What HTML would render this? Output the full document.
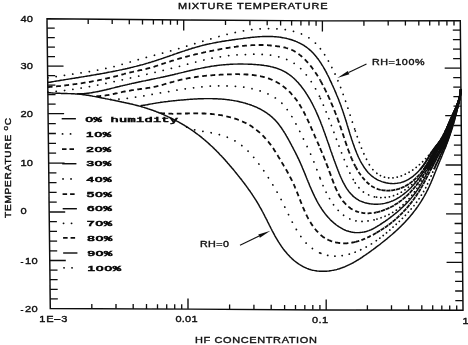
<!DOCTYPE html>
<html><head><meta charset="utf-8"><title>Mixture Temperature</title>
<style>
html,body{margin:0;padding:0;background:#fff;}
body{width:468px;height:345px;overflow:hidden;}
svg{display:block;}
text{font-family:"Liberation Sans",sans-serif;fill:#0a0a0a;stroke:#111;stroke-width:0.4px;}
.lg{font-family:"Liberation Mono",monospace;font-weight:normal;stroke-width:0.68px;}
.dg{font-family:"Liberation Sans",sans-serif;font-size:7.7px;}
.ax{stroke:#0a0a0a;stroke-width:1.45;fill:none;stroke-linecap:square;}
.tk{stroke:#0a0a0a;stroke-width:1.3;fill:none;}
.cv{stroke:#0a0a0a;stroke-width:1.45;fill:none;stroke-linejoin:round;}
.ds{stroke:#0a0a0a;stroke-width:1.8;fill:none;}
.dt{stroke:#0a0a0a;stroke-width:1.75;fill:none;stroke-linecap:round;}
</style></head><body>
<svg width="468" height="345" viewBox="0 0 468 345">
<defs><filter id="soft" x="-2%" y="-2%" width="104%" height="104%"><feGaussianBlur stdDeviation="0.28"/></filter></defs>
<rect width="468" height="345" fill="#fff"/>
<g filter="url(#soft)">

<path class="ax" d="M47.0 18.7L183.7 20.0L322.4 20.9L460.3 20.8L463.0 310.2L326.2 309.9L188.0 309.1L50.3 308.5Z"/>
<path class="tk" d="M50.2 298.9h7.6M462.9 300.6h-7.6M50.1 289.3h7.6M462.8 291.0h-7.6M50.0 279.7h7.6M462.7 281.4h-7.6M49.9 270.1h7.6M462.6 271.8h-7.6M49.8 260.5h16M462.6 262.3h-16M49.6 250.8h7.6M462.5 252.6h-7.6M49.5 241.1h7.6M462.4 242.9h-7.6M49.4 231.4h7.6M462.3 233.2h-7.6M49.3 221.7h7.6M462.2 223.5h-7.6M49.2 212.0h16M462.1 213.8h-16M49.1 202.2h7.6M462.0 204.0h-7.6M49.0 192.4h7.6M461.9 194.3h-7.6M48.9 182.7h7.6M461.8 184.5h-7.6M48.8 172.9h7.6M461.7 174.7h-7.6M48.6 163.1h16M461.6 165.0h-16M48.5 153.2h7.6M461.6 155.1h-7.6M48.4 143.3h7.6M461.5 145.2h-7.6M48.3 133.5h7.6M461.4 135.4h-7.6M48.2 123.6h7.6M461.3 125.5h-7.6M48.1 113.7h16M461.2 115.6h-16M48.0 104.2h7.6M461.1 106.1h-7.6M47.9 94.7h7.6M461.0 96.6h-7.6M47.8 85.1h7.6M460.9 87.1h-7.6M47.6 75.6h7.6M460.8 77.6h-7.6M47.5 66.1h16M460.7 68.1h-16M47.4 56.6h7.6M460.7 58.6h-7.6M47.3 47.1h7.6M460.6 49.2h-7.6M47.2 37.7h7.6M460.5 39.7h-7.6M47.1 28.2h7.6M460.4 30.2h-7.6M88.2 19.1v4.8M91.8 308.7v-4.8M112.2 19.3v4.8M116.0 308.8v-4.8M129.3 19.5v4.8M133.2 308.9v-4.8M142.5 19.6v4.8M146.5 308.9v-4.8M153.4 19.7v4.8M157.5 309.0v-4.8M162.5 19.8v4.8M166.7 309.0v-4.8M170.5 19.9v4.8M174.7 309.0v-4.8M177.4 19.9v4.8M181.7 309.1v-4.8M183.7 20.0v10.5M188.0 309.1v-10.5M225.5 20.3v4.8M229.6 309.3v-4.8M249.9 20.4v4.8M253.9 309.5v-4.8M267.2 20.5v4.8M271.2 309.6v-4.8M280.6 20.6v4.8M284.6 309.7v-4.8M291.6 20.7v4.8M295.5 309.7v-4.8M300.9 20.8v4.8M304.8 309.8v-4.8M309.0 20.8v4.8M312.8 309.8v-4.8M316.1 20.9v4.8M319.9 309.9v-4.8M322.4 20.9v10.5M326.2 309.9v-10.5M363.9 20.9v4.8M367.4 310.0v-4.8M388.2 20.8v4.8M391.5 310.0v-4.8M405.4 20.8v4.8M408.6 310.1v-4.8M418.8 20.8v4.8M421.8 310.1v-4.8M429.7 20.8v4.8M432.7 310.1v-4.8M438.9 20.8v4.8M441.8 310.2v-4.8M446.9 20.8v4.8M449.7 310.2v-4.8M454.0 20.8v4.8M456.7 310.2v-4.8"/>
<path class="cv" d="M47.8 92.5L49.0 92.7L50.2 92.8L51.3 92.9L52.5 93.0L53.7 93.1L54.9 93.1L56.1 93.2L57.3 93.2L58.5 93.3L59.7 93.3L60.9 93.4L62.1 93.4L63.2 93.4L64.4 93.5L65.6 93.5L66.8 93.5L68.0 93.6L69.2 93.6L70.4 93.6L71.6 93.7L72.8 93.7L74.0 93.8L75.1 93.9L76.3 93.9L77.5 94.0L78.7 94.1L79.9 94.2L81.1 94.4L82.2 94.5L83.4 94.7L84.6 94.8L85.8 95.0L87.0 95.2L88.1 95.3L89.3 95.5L90.5 95.7L91.6 95.9L92.8 96.2L94.0 96.4L95.2 96.6L96.3 96.8L97.5 97.0L98.7 97.3L99.8 97.5L101.0 97.7L102.2 98.0L103.3 98.2L104.5 98.4L105.7 98.7L106.8 98.9L108.0 99.1L109.2 99.4L110.3 99.6L111.5 99.8L112.7 100.1L113.8 100.3L115.0 100.5L116.2 100.8L117.3 101.0L118.5 101.2L119.7 101.5L120.8 101.7L122.0 102.0L123.1 102.2L124.3 102.5L125.5 102.7L126.6 103.0L127.8 103.2L128.9 103.5L130.1 103.8L131.3 104.0L132.4 104.3L133.6 104.6L134.7 104.9L135.9 105.2L137.0 105.5L138.2 105.8L139.3 106.1L140.5 106.4L141.6 106.7L142.7 107.1L143.9 107.4L145.0 107.8L146.2 108.1L147.3 108.5L148.4 108.9L149.5 109.2L150.7 109.6L151.8 110.0L152.9 110.4L154.0 110.8L155.2 111.2L156.3 111.7L157.4 112.1L158.5 112.5L159.6 113.0L160.7 113.4L161.8 113.9L162.9 114.3L164.0 114.8L165.1 115.3L166.2 115.8L167.3 116.3L168.3 116.8L169.4 117.3L170.5 117.8L171.6 118.3L172.6 118.9L173.7 119.4L174.7 120.0L175.8 120.5L176.8 121.1L177.9 121.6L178.9 122.2L180.0 122.8L181.0 123.4L182.0 124.0L183.1 124.6L184.1 125.2L185.1 125.8L186.1 126.4L187.1 127.1L188.1 127.7L189.1 128.4L190.1 129.0L191.1 129.7L192.1 130.3L193.0 131.0L194.0 131.7L195.0 132.4L195.9 133.1L196.9 133.8L197.8 134.5L198.8 135.2L199.7 135.9L200.6 136.7L201.6 137.4L202.5 138.2L203.4 138.9L204.3 139.7L205.2 140.4L206.1 141.2L207.0 142.0L207.9 142.8L208.8 143.6L209.7 144.4L210.5 145.2L211.4 146.0L212.3 146.8L213.1 147.6L214.0 148.4L214.8 149.3L215.7 150.1L216.5 150.9L217.3 151.8L218.2 152.6L219.0 153.5L219.8 154.4L220.6 155.2L221.5 156.1L222.3 157.0L223.1 157.8L223.9 158.7L224.7 159.6L225.5 160.5L226.3 161.4L227.1 162.3L227.8 163.2L228.6 164.1L229.4 165.0L230.2 165.9L231.0 166.8L231.7 167.7L232.5 168.6L233.3 169.5L234.0 170.4L234.8 171.4L235.5 172.3L236.3 173.2L237.0 174.1L237.8 175.1L238.5 176.0L239.3 176.9L240.0 177.9L240.8 178.8L241.5 179.7L242.2 180.7L242.9 181.6L243.7 182.6L244.4 183.5L245.1 184.5L245.8 185.4L246.5 186.4L247.2 187.4L247.9 188.3L248.6 189.3L249.3 190.3L250.0 191.2L250.6 192.2L251.3 193.2L252.0 194.2L252.6 195.2L253.3 196.2L253.9 197.2L254.6 198.2L255.2 199.2L255.9 200.2L256.5 201.2L257.1 202.2L257.7 203.2L258.3 204.2L258.9 205.2L259.5 206.3L260.1 207.3L260.7 208.3L261.3 209.4L261.8 210.4L262.4 211.5L263.0 212.5L263.5 213.6L264.1 214.6L264.6 215.7L265.1 216.8L265.7 217.8L266.2 218.9L266.8 219.9L267.3 221.0L267.8 222.1L268.4 223.1L268.9 224.2L269.4 225.3L270.0 226.3L270.5 227.4L271.0 228.5L271.6 229.5L272.1 230.6L272.7 231.6L273.2 232.7L273.8 233.7L274.4 234.8L274.9 235.8L275.5 236.8L276.1 237.9L276.7 238.9L277.3 239.9L277.9 240.9L278.5 241.9L279.2 242.9L279.8 243.9L280.5 244.9L281.1 245.9L281.8 246.9L282.5 247.8L283.2 248.8L283.9 249.8L284.7 250.7L285.4 251.6L286.2 252.5L287.0 253.5L287.7 254.3L288.6 255.2L289.4 256.1L290.2 257.0L291.1 257.8L291.9 258.6L292.8 259.4L293.7 260.2L294.6 261.0L295.6 261.7L296.5 262.4L297.5 263.1L298.5 263.8L299.5 264.5L300.5 265.1L301.5 265.7L302.6 266.3L303.6 266.9L304.7 267.4L305.8 267.9L306.9 268.4L308.0 268.8L309.1 269.2L310.2 269.5L311.3 269.9L312.5 270.2L313.6 270.4L314.8 270.6L315.9 270.8L317.1 271.0L318.3 271.1L319.5 271.2L320.6 271.3L321.8 271.3L323.0 271.3L324.2 271.3L325.4 271.3L326.5 271.2L327.7 271.1L328.9 271.0L330.1 270.8L331.3 270.6L332.4 270.4L333.6 270.2L334.8 269.9L336.0 269.7L337.1 269.4L338.3 269.0L339.4 268.7L340.6 268.3L341.7 267.9L342.8 267.5L343.9 267.1L345.0 266.7L346.1 266.2L347.2 265.7L348.3 265.2L349.4 264.7L350.4 264.2L351.5 263.7L352.5 263.1L353.6 262.5L354.6 261.9L355.6 261.3L356.6 260.7L357.6 260.1L358.7 259.5L359.7 258.9L360.7 258.2L361.7 257.6L362.6 256.9L363.6 256.2L364.6 255.5L365.6 254.9L366.6 254.2L367.6 253.5L368.5 252.8L369.5 252.1L370.5 251.4L371.4 250.7L372.4 250.0L373.4 249.3L374.3 248.6L375.3 247.9L376.2 247.1L377.2 246.4L378.2 245.7L379.1 245.0L380.1 244.3L381.0 243.5L381.9 242.8L382.9 242.0L383.8 241.3L384.7 240.6L385.7 239.8L386.6 239.1L387.5 238.3L388.4 237.5L389.3 236.8L390.2 236.0L391.1 235.2L392.0 234.5L392.9 233.7L393.8 232.9L394.7 232.1L395.6 231.3L396.5 230.5L397.3 229.7L398.2 228.9L399.1 228.0L399.9 227.2L400.8 226.4L401.6 225.6L402.4 224.7L403.3 223.9L404.1 223.0L404.9 222.2L405.7 221.3L406.5 220.4L407.3 219.6L408.1 218.7L408.9 217.8L409.7 216.9L410.4 216.0L411.2 215.1L411.9 214.2L412.7 213.2L413.4 212.3L414.1 211.4L414.9 210.4L415.6 209.5L416.3 208.5L417.0 207.5L417.7 206.6L418.3 205.6L419.0 204.6L419.7 203.6L420.3 202.6L421.0 201.6L421.6 200.6L422.2 199.6L422.9 198.5L423.5 197.5L424.1 196.5L424.7 195.4L425.2 194.4L425.8 193.3L426.4 192.3L426.9 191.2L427.5 190.2L428.0 189.1L428.5 188.0L429.0 187.0L429.5 185.9L430.0 184.8L430.5 183.7L431.0 182.6L431.4 181.5L431.9 180.4L432.4 179.3L432.8 178.2L433.3 177.1L433.7 176.0L434.2 174.9L434.6 173.8L435.0 172.7L435.5 171.6L435.9 170.5L436.4 169.4L436.8 168.3L437.3 167.2L437.7 166.1L438.2 165.0L438.6 163.9L439.1 162.8L439.5 161.7L440.0 160.6L440.4 159.6L440.9 158.5L441.4 157.4L441.8 156.3L442.3 155.2L442.7 154.1L443.1 153.0L443.6 151.9L444.0 150.8L444.5 149.7L444.9 148.6L445.4 147.5L445.8 146.4L446.2 145.2L446.6 144.1L447.1 143.0L447.5 141.9L447.9 140.8L448.3 139.7L448.7 138.6L449.1 137.4L449.5 136.3L449.9 135.2L450.3 134.1L450.6 132.9L451.0 131.8L451.4 130.7L451.7 129.5L452.1 128.4L452.5 127.3L452.8 126.1L453.1 125.0L453.5 123.8L453.8 122.7L454.1 121.5L454.5 120.4L454.8 119.2L455.1 118.1L455.4 116.9L455.7 115.8L456.0 114.6L456.3 113.5L456.6 112.3L456.8 111.2L457.1 110.0L457.4 108.8L457.7 107.7L457.9 106.5L458.2 105.4L458.4 104.2L458.7 103.0L458.9 101.9L459.1 100.7L459.3 99.5L459.6 98.4L459.8 97.2L460.0 96.1L460.2 94.9L460.4 93.7L460.6 92.6L460.8 91.4L460.9 90.2L461.1 89.1"/>
<path class="dt" stroke-dasharray="0.1 8.3" d="M186.7 127.1L187.5 127.5L188.4 127.8L189.2 128.2L190.0 128.5L190.9 128.8L191.7 129.0L192.6 129.3L193.4 129.5L194.3 129.8L195.2 130.0L196.0 130.2L196.9 130.3L197.8 130.5L198.7 130.7L199.5 130.8L200.4 131.0L201.3 131.1L202.2 131.3L203.1 131.4L204.0 131.6L204.9 131.7L205.8 131.8L206.8 132.0L207.7 132.1L208.6 132.3L209.5 132.5L210.4 132.6L211.3 132.8L212.2 133.0L213.2 133.2L214.1 133.4L215.0 133.6L215.9 133.8L216.8 134.0L217.7 134.2L218.6 134.4L219.5 134.7L220.4 134.9L221.3 135.2L222.2 135.4L223.1 135.7L224.0 136.0L224.9 136.3L225.7 136.6L226.6 136.9L227.5 137.3L228.3 137.6L229.2 137.9L230.0 138.3L230.8 138.7L231.7 139.1L232.5 139.5L233.3 139.9L234.1 140.3L234.8 140.8L235.6 141.2L236.4 141.7L237.2 142.2L237.9 142.7L238.6 143.2L239.4 143.7L240.1 144.2L240.8 144.8L241.5 145.3L242.2 145.9L242.9 146.5L243.6 147.0L244.3 147.6L245.0 148.2L245.7 148.8L246.3 149.5L247.0 150.1L247.6 150.7L248.3 151.4L248.9 152.0L249.6 152.7L250.2 153.3L250.8 154.0L251.4 154.7L252.0 155.4L252.6 156.1L253.2 156.8L253.8 157.5L254.4 158.2L255.0 158.9L255.6 159.6L256.1 160.3L256.7 161.0L257.3 161.8L257.8 162.5L258.4 163.3L258.9 164.0L259.5 164.7L260.0 165.5L260.6 166.2L261.1 167.0L261.7 167.8L262.2 168.5L262.7 169.3L263.2 170.0L263.8 170.8L264.3 171.6L264.8 172.3L265.3 173.1L265.8 173.9L266.3 174.6L266.8 175.4L267.3 176.2L267.8 176.9L268.3 177.7L268.8 178.4L269.3 179.2L269.8 180.0L270.3 180.8L270.8 181.5L271.3 182.3L271.8 183.1L272.2 183.8L272.7 184.6L273.2 185.4L273.7 186.2L274.1 186.9L274.6 187.7L275.0 188.5L275.5 189.3L276.0 190.1L276.4 190.9L276.9 191.7L277.3 192.5L277.7 193.3L278.2 194.1L278.6 194.9L279.0 195.7L279.5 196.5L279.9 197.3L280.3 198.1L280.7 198.9L281.2 199.7L281.6 200.5L282.0 201.4L282.4 202.2L282.8 203.0L283.2 203.8L283.6 204.6L284.0 205.5L284.4 206.3L284.8 207.1L285.2 207.9L285.7 208.8L286.1 209.6L286.5 210.4L286.9 211.2L287.3 212.1L287.7 212.9L288.1 213.7L288.5 214.5L288.9 215.4L289.3 216.2L289.7 217.0L290.1 217.8L290.5 218.6L291.0 219.5L291.4 220.3L291.8 221.1L292.2 221.9L292.6 222.7L293.1 223.5L293.5 224.3L293.9 225.1L294.4 225.9L294.8 226.7L295.3 227.5L295.7 228.3L296.2 229.1L296.6 229.9L297.1 230.6L297.6 231.4L298.0 232.2L298.5 233.0L299.0 233.7L299.5 234.5L300.0 235.3L300.5 236.0L301.0 236.8L301.5 237.5L302.1 238.2L302.6 239.0L303.2 239.7L303.8 240.4L304.4 241.1L305.0 241.8L305.6 242.5L306.2 243.2L306.9 243.8L307.5 244.5L308.2 245.1L308.9 245.8L309.6 246.4L310.4 247.0L311.1 247.5L311.8 248.1L312.6 248.7L313.4 249.2L314.1 249.7L314.9 250.2L315.7 250.7L316.5 251.2L317.3 251.6L318.2 252.1L319.0 252.5L319.8 252.9L320.7 253.2"/>
<path class="dt" stroke-dasharray="0.1 7.2" d="M320.7 253.2L321.5 253.6L322.4 253.9L323.2 254.2L324.1 254.5L325.0 254.7L325.8 255.0L326.7 255.2L327.6 255.4L328.4 255.6L329.3 255.7L330.2 255.8L331.1 255.9L332.0 256.0L332.8 256.1L333.7 256.1L334.6 256.2L335.5 256.2L336.4 256.2L337.3 256.1L338.2 256.1L339.1 256.0L340.0 255.9L340.9 255.9L341.8 255.7L342.7 255.6L343.6 255.5L344.5 255.3L345.4 255.1L346.2 254.9L347.1 254.7L348.0 254.5L348.9 254.3L349.8 254.0L350.7 253.7L351.6 253.5L352.4 253.2L353.3 252.9L354.2 252.6L355.1 252.2"/>
<path class="dt" stroke-dasharray="0.1 6.0" d="M355.1 252.2L355.9 251.9L356.8 251.5L357.7 251.2L358.5 250.8L359.4 250.4L360.3 250.0L361.1 249.6L361.9 249.2L362.8 248.8L363.6 248.4L364.5 248.0L365.3 247.5L366.1 247.1L366.9 246.6L367.7 246.2L368.5 245.7L369.3 245.2L370.1 244.7L370.9 244.2L371.7 243.8L372.5 243.3L373.3 242.8L374.0 242.3L374.8 241.7L375.5 241.2L376.3 240.7"/>
<path class="dt" stroke-dasharray="0.1 4.2" d="M376.3 240.7L377.0 240.2L377.8 239.7L378.5 239.1L379.2 238.6L379.9 238.1L380.7 237.5L381.4 237.0L382.1 236.4L382.8 235.8L383.5 235.3L384.2 234.7L384.9 234.2L385.6 233.6L386.3 233.0L387.0 232.4L387.7 231.8L388.4 231.3L389.0 230.7L389.7 230.1L390.4 229.5L391.1 228.9L391.8 228.3L392.4 227.7L393.1 227.1L393.8 226.5L394.5 225.8L395.1 225.2L395.8 224.6L396.5 224.0L397.2 223.4L397.8 222.7L398.5 222.1L399.2 221.5L399.8 220.8L400.5 220.2L401.2 219.6L401.8 218.9L402.5 218.3L403.1 217.6L403.8 217.0L404.4 216.3L405.1 215.6L405.7 215.0L406.4 214.3L407.0 213.6L407.6 213.0L408.2 212.3L408.9 211.6L409.5 210.9L410.1 210.2L410.7 209.5L411.3 208.8L411.9 208.1L412.5 207.4L413.1 206.7L413.7 206.0L414.3 205.3L414.8 204.6L415.4 203.8L415.9 203.1L416.5 202.4L417.0 201.6L417.6 200.9L418.1 200.2L418.6 199.4L419.1 198.7L419.7 197.9L420.2 197.1L420.6 196.4L421.1 195.6L421.6 194.8L422.1 194.0L422.6 193.3L423.0 192.5L423.5 191.7L423.9 190.9L424.4 190.1L424.8 189.3L425.2 188.5L425.7 187.7L426.1 186.9L426.5 186.1L426.9 185.3L427.3 184.4L427.7 183.6L428.1 182.8L428.5 182.0L428.9 181.1L429.2 180.3L429.6 179.4L430.0 178.6L430.3 177.8L430.7 176.9L431.1 176.1L431.4 175.2L431.8 174.4L432.1 173.5L432.5 172.7L432.8 171.9L433.2 171.0L433.6 170.2L433.9 169.3L434.3 168.5L434.7 167.7L435.1 166.8L435.5 166.0L435.8 165.1L436.2 164.3L436.6 163.5L437.0 162.7L437.4 161.8L437.8 161.0L438.2 160.2L438.6 159.3L439.0 158.5L439.4 157.7L439.8 156.9L440.1 156.0L440.5 155.2L440.9 154.4L441.3 153.6L441.7 152.7L442.1 151.9L442.5 151.1L442.9 150.2L443.2 149.4L443.6 148.6L444.0 147.7L444.4 146.9L444.7 146.1L445.1 145.2L445.5 144.4L445.8 143.6L446.2 142.7L446.5 141.9L446.9 141.0L447.2 140.2L447.5 139.3L447.8 138.5L448.2 137.6L448.5 136.8L448.8 135.9L449.1 135.0L449.4 134.2L449.7 133.3L450.0 132.4L450.3 131.6L450.6 130.7L450.8 129.8L451.1 128.9L451.4 128.1L451.7 127.2L451.9 126.3L452.2 125.4L452.5 124.6L452.7 123.7L453.0 122.8L453.2 121.9L453.5 121.0L453.8 120.2L454.0 119.3L454.3 118.4L454.5 117.5L454.8 116.6L455.0 115.7L455.3 114.9L455.6 114.0L455.8 113.1L456.1 112.2L456.3 111.3L456.6 110.5L456.8 109.6L457.1 108.7L457.4 107.8L457.6 106.9L457.9 106.1L458.1 105.2L458.4 104.3L458.6 103.4L458.9 102.5L459.1 101.7L459.3 100.8L459.5 99.9L459.7 99.0L459.9 98.1L460.1 97.2L460.2 96.3L460.4 95.4L460.5 94.5L460.6 93.6L460.7 92.7L460.8 91.8L460.8 90.9L460.8 89.9L460.8 89.0"/>
<path class="ds" stroke-dasharray="4.8 3.5" d="M160.2 113.1L161.1 113.2L162.1 113.3L163.0 113.4L164.0 113.5L164.9 113.5L165.9 113.6L166.8 113.6L167.8 113.7L168.7 113.7L169.6 113.7L170.6 113.7L171.5 113.7L172.5 113.8L173.4 113.8L174.3 113.8L175.3 113.7L176.2 113.7L177.2 113.7L178.1 113.7L179.0 113.7L180.0 113.7L180.9 113.6L181.9 113.6L182.8 113.6L183.7 113.6L184.7 113.5L185.6 113.5L186.6 113.5L187.5 113.5L188.4 113.4L189.4 113.4L190.3 113.4L191.3 113.4L192.2 113.4L193.2 113.4L194.1 113.3L195.1 113.3L196.0 113.3L197.0 113.3L198.0 113.4L198.9 113.4L199.9 113.4L200.8 113.4L201.8 113.4L202.8 113.5L203.7 113.5L204.7 113.5L205.7 113.6L206.6 113.7L207.6 113.7L208.5 113.8L209.5 113.9L210.5 113.9L211.4 114.0L212.4 114.1L213.4 114.2L214.3 114.3L215.3 114.4L216.2 114.5L217.2 114.7L218.2 114.8L219.1 114.9L220.1 115.1L221.0 115.2L222.0 115.4L222.9 115.6L223.9 115.8L224.8 116.0L225.7 116.1L226.7 116.4L227.6 116.6L228.5 116.8L229.5 117.0L230.4 117.3L231.3 117.5L232.2 117.8L233.1 118.0L234.0 118.3L234.9 118.6L235.8 118.9L236.7 119.2L237.6 119.5L238.5 119.9L239.4 120.2L240.3 120.6L241.1 120.9L242.0 121.3L242.9 121.7L243.7 122.1L244.6 122.5L245.4 122.9L246.3 123.3L247.1 123.8L247.9 124.2L248.7 124.7L249.5 125.1L250.3 125.6L251.1 126.1L251.9 126.6L252.7 127.2L253.5 127.7L254.3 128.3L255.0 128.8L255.8 129.4L256.5 130.0L257.3 130.6L258.0 131.2L258.7 131.8L259.5 132.4L260.2 133.1L260.9 133.7L261.6 134.4L262.2 135.0L262.9 135.7L263.6 136.4L264.3 137.1L264.9 137.8L265.6 138.5L266.2 139.2L266.8 139.9L267.4 140.7L268.1 141.4L268.7 142.2L269.2 142.9L269.8 143.7L270.4 144.4L271.0 145.2L271.5 146.0L272.1 146.7L272.6 147.5L273.2 148.3L273.7 149.1L274.2 149.9L274.7 150.7L275.2 151.5L275.7 152.3L276.2 153.1L276.7 153.9L277.2 154.7L277.7 155.5L278.2 156.4L278.7 157.2L279.2 158.0L279.7 158.8L280.2 159.6L280.7 160.4L281.2 161.3L281.7 162.1L282.1 162.9L282.6 163.7L283.1 164.5L283.6 165.4L284.1 166.2L284.6 167.0L285.1 167.8L285.5 168.7L286.0 169.5L286.5 170.3L287.0 171.1L287.4 172.0L287.9 172.8L288.3 173.6L288.8 174.5L289.3 175.3L289.7 176.2L290.1 177.0L290.6 177.9L291.0 178.7L291.4 179.5L291.9 180.4L292.3 181.3L292.7 182.1L293.1 183.0L293.5 183.8L293.9 184.7L294.3 185.6L294.7 186.4L295.0 187.3L295.4 188.2L295.8 189.0L296.1 189.9L296.5 190.8L296.8 191.7L297.2 192.6L297.5 193.4L297.9 194.3L298.2 195.2L298.6 196.1L298.9 197.0L299.3 197.9L299.6 198.7L300.0 199.6L300.3 200.5L300.6 201.4L301.0 202.3L301.3 203.2L301.7 204.0L302.0 204.9L302.4 205.8L302.8 206.7L303.1 207.6L303.5 208.4L303.9 209.3L304.2 210.2L304.6 211.0L305.0 211.9L305.4 212.8L305.8 213.6L306.2 214.5L306.6 215.4L307.1 216.2L307.5 217.1L307.9 217.9L308.4 218.8L308.9 219.6L309.3 220.4L309.8 221.3L310.3 222.1L310.8 222.9L311.3 223.8L311.9 224.6L312.4 225.4L313.0 226.2L313.5 227.0L314.1 227.8L314.7 228.5L315.3 229.3L315.9 230.0L316.6 230.8L317.2 231.5L317.9 232.2L318.5 232.9L319.2 233.6L319.9 234.2L320.6 234.9"/>
<path class="ds" stroke-dasharray="5.2 3.0" d="M320.6 234.9L321.3 235.5L322.1 236.1L322.8 236.7L323.6 237.2L324.4 237.7L325.2 238.2L326.0 238.7L326.8 239.2L327.7 239.6L328.5 240.0L329.4 240.4L330.2 240.7L331.1 241.1L332.0 241.4L332.9 241.7L333.8 241.9L334.7 242.2L335.6 242.4L336.5 242.6L337.5 242.7L338.4 242.9L339.3 243.0L340.3 243.1L341.2 243.2L342.2 243.3L343.1 243.3L344.1 243.3L345.0 243.3L346.0 243.3L346.9 243.3L347.9 243.2L348.8 243.1L349.8 243.0L350.7 242.9L351.7 242.7L352.6 242.5L353.5 242.4L354.5 242.2L355.4 241.9"/>
<path class="ds" stroke-dasharray="4.0 2.3" d="M355.4 241.9L356.3 241.7L357.2 241.4L358.2 241.2L359.1 240.9L360.0 240.6L360.9 240.3L361.8 239.9L362.7 239.6L363.6 239.2L364.5 238.9L365.4 238.5L366.3 238.1L367.1 237.7L368.0 237.3L368.9 236.9L369.7 236.4L370.6 236.0L371.5 235.6L372.3 235.1L373.2 234.7L374.0 234.2L374.8 233.7L375.7 233.3L376.5 232.8"/>
<path class="ds" stroke-dasharray="4.2 0.7" d="M376.5 232.8L377.3 232.3L378.1 231.8L379.0 231.3L379.8 230.8L380.6 230.3L381.4 229.8L382.2 229.3L383.0 228.8L383.7 228.3L384.5 227.8L385.3 227.2L386.1 226.7L386.8 226.2L387.6 225.6L388.4 225.1L389.1 224.5L389.9 223.9L390.6 223.4L391.3 222.8L392.1 222.2L392.8 221.6L393.5 221.0L394.3 220.4L395.0 219.8L395.7 219.2L396.4 218.5L397.1 217.9L397.8 217.2L398.5 216.6L399.2 215.9L399.9 215.3L400.6 214.6L401.3 213.9L401.9 213.3L402.6 212.6L403.3 211.9L403.9 211.2L404.6 210.5L405.2 209.8L405.9 209.0L406.5 208.3L407.1 207.6L407.8 206.9L408.4 206.1L409.0 205.4L409.6 204.7L410.2 203.9L410.8 203.1L411.4 202.4L412.0 201.6L412.6 200.9L413.2 200.1L413.7 199.3L414.3 198.5L414.8 197.7L415.4 197.0L415.9 196.2L416.5 195.4L417.0 194.6L417.5 193.8L418.0 193.0L418.6 192.2L419.1 191.4L419.6 190.5L420.1 189.7L420.5 188.9L421.0 188.1L421.5 187.3L422.0 186.4L422.4 185.6L422.9 184.8L423.3 184.0L423.8 183.1L424.2 182.3L424.7 181.5L425.1 180.6L425.6 179.8L426.0 178.9L426.4 178.1L426.9 177.3L427.3 176.4L427.7 175.6L428.1 174.7L428.6 173.9L429.0 173.0L429.4 172.2L429.8 171.3L430.3 170.5L430.7 169.7L431.1 168.8L431.5 168.0L432.0 167.1L432.4 166.3L432.8 165.4L433.3 164.6L433.7 163.7L434.1 162.9L434.6 162.0L435.0 161.2L435.5 160.3L435.9 159.5L436.4 158.7L436.8 157.8L437.3 157.0L437.7 156.1L438.2 155.3L438.7 154.5L439.2 153.6L439.6 152.8L440.1 152.0L440.6 151.1L441.0 150.3L441.5 149.4L442.0 148.6L442.4 147.8L442.9 146.9L443.3 146.1L443.7 145.2L444.2 144.4L444.6 143.5L445.0 142.7L445.4 141.8L445.8 140.9L446.2 140.1L446.5 139.2L446.9 138.3L447.2 137.4L447.5 136.5L447.9 135.6L448.2 134.8L448.5 133.9L448.8 133.0L449.1 132.1L449.4 131.2L449.7 130.3L450.0 129.4L450.3 128.5L450.6 127.5L450.9 126.6L451.2 125.7L451.5 124.8L451.8 123.9L452.2 123.0L452.5 122.1L452.8 121.2L453.1 120.3L453.4 119.4L453.7 118.5L454.1 117.6L454.4 116.7L454.7 115.8L455.0 114.9L455.3 114.0L455.6 113.1L455.9 112.2L456.2 111.3L456.5 110.4L456.8 109.5L457.1 108.6L457.3 107.7L457.6 106.7L457.9 105.8L458.1 104.9L458.4 104.0L458.6 103.1L458.8 102.1L459.1 101.2L459.3 100.3L459.5 99.4L459.7 98.4L459.8 97.5L460.0 96.6L460.2 95.6L460.3 94.7L460.4 93.8L460.5 92.8L460.6 91.9L460.7 90.9L460.8 90.0L460.9 89.0"/>
<path class="cv" d="M140.5 105.6L141.5 105.5L142.4 105.5L143.4 105.3L144.4 105.2L145.3 105.0L146.3 104.9L147.3 104.7L148.2 104.5L149.2 104.3L150.2 104.1L151.2 103.9L152.1 103.8L153.1 103.6L154.1 103.4L155.0 103.3L156.0 103.1L157.0 102.9L157.9 102.8L158.9 102.6L159.9 102.5L160.9 102.3L161.8 102.2L162.8 102.1L163.8 101.9L164.8 101.8L165.7 101.7L166.7 101.6L167.7 101.5L168.7 101.3L169.6 101.2L170.6 101.1L171.6 101.0L172.6 100.9L173.5 100.8L174.5 100.7L175.5 100.6L176.5 100.5L177.5 100.4L178.4 100.3L179.4 100.2L180.4 100.1L181.4 100.0L182.4 99.9L183.4 99.9L184.3 99.8L185.3 99.7L186.3 99.6L187.3 99.5L188.3 99.5L189.3 99.4L190.3 99.3L191.3 99.2L192.3 99.2L193.2 99.1L194.2 99.0L195.2 99.0L196.2 98.9L197.2 98.9L198.2 98.8L199.2 98.8L200.2 98.8L201.2 98.7L202.2 98.7L203.2 98.7L204.1 98.6L205.1 98.6L206.1 98.6L207.1 98.6L208.1 98.6L209.1 98.6L210.1 98.6L211.1 98.6L212.1 98.6L213.1 98.7L214.1 98.7L215.0 98.7L216.0 98.8L217.0 98.8L218.0 98.9L219.0 98.9L220.0 99.0L221.0 99.0L221.9 99.1L222.9 99.2L223.9 99.3L224.9 99.4L225.9 99.5L226.9 99.6L227.8 99.7L228.8 99.8L229.8 100.0L230.8 100.1L231.7 100.3L232.7 100.4L233.7 100.6L234.7 100.8L235.6 100.9L236.6 101.1L237.6 101.3L238.6 101.5L239.5 101.7L240.5 102.0L241.4 102.2L242.4 102.4L243.4 102.7L244.3 102.9L245.3 103.2L246.2 103.5L247.2 103.8L248.1 104.1L249.1 104.4L250.0 104.7L250.9 105.0L251.9 105.4L252.8 105.7L253.7 106.1L254.6 106.5L255.5 106.8L256.4 107.2L257.3 107.6L258.2 108.1L259.1 108.5L259.9 108.9L260.8 109.4L261.7 109.9L262.5 110.3L263.4 110.8L264.2 111.3L265.0 111.9L265.8 112.4L266.6 112.9L267.4 113.5L268.2 114.1L269.0 114.6L269.8 115.2L270.5 115.9L271.3 116.5L272.0 117.1L272.7 117.8L273.4 118.5L274.1 119.1L274.8 119.8L275.5 120.6L276.2 121.3L276.8 122.0L277.5 122.8L278.1 123.5L278.7 124.3L279.3 125.1L279.9 125.9L280.5 126.7L281.1 127.5L281.7 128.3L282.2 129.2L282.8 130.0L283.3 130.9L283.9 131.7L284.4 132.6L285.0 133.4L285.5 134.3L286.0 135.2L286.5 136.1L287.0 136.9L287.5 137.8L288.0 138.7L288.5 139.6L289.0 140.5L289.5 141.4L289.9 142.2L290.4 143.1L290.9 144.0L291.4 144.9L291.8 145.8L292.3 146.6L292.8 147.5L293.2 148.4L293.7 149.3L294.1 150.1L294.6 151.0L295.0 151.9L295.5 152.7L295.9 153.6L296.3 154.5L296.8 155.3L297.2 156.2L297.6 157.1L298.0 158.0L298.5 158.8L298.9 159.7L299.3 160.6L299.7 161.5L300.1 162.4L300.5 163.3L300.9 164.2L301.3 165.1L301.7 166.0L302.1 166.9L302.4 167.8L302.8 168.7L303.2 169.6L303.6 170.5L303.9 171.4L304.3 172.3L304.7 173.2L305.1 174.1L305.4 175.1L305.8 176.0L306.2 176.9L306.5 177.8L306.9 178.7L307.3 179.7L307.7 180.6L308.0 181.5L308.4 182.4L308.8 183.3L309.2 184.3L309.5 185.2L309.9 186.1L310.3 187.0L310.7 187.9L311.1 188.8L311.5 189.7L311.9 190.6L312.3 191.5L312.7 192.4L313.1 193.3L313.5 194.2L314.0 195.1L314.4 196.0L314.8 196.9L315.3 197.8L315.7 198.7L316.2 199.5L316.6 200.4L317.1 201.3L317.6 202.1L318.0 203.0L318.5 203.9L319.0 204.7L319.5 205.5L320.0 206.4L320.6 207.2L321.1 208.0L321.6 208.9L322.2 209.7L322.7 210.5L323.3 211.3L323.9 212.1L324.5 212.9L325.1 213.7L325.7 214.4L326.3 215.2L327.0 216.0L327.6 216.7L328.3 217.5L329.0 218.2L329.6 218.9L330.3 219.7L331.0 220.4L331.8 221.1L332.5 221.7L333.3 222.4L334.0 223.1L334.8 223.7L335.6 224.3L336.3 225.0L337.1 225.5L338.0 226.1L338.8 226.7L339.6 227.2L340.5 227.7L341.3 228.2L342.2 228.7L343.0 229.2L343.9 229.6L344.8 230.0L345.7 230.4L346.6 230.7L347.6 231.0L348.5 231.3L349.4 231.6L350.4 231.8L351.3 232.1L352.3 232.2L353.3 232.4L354.2 232.5L355.2 232.6L356.2 232.6L357.2 232.6L358.2 232.6L359.2 232.6L360.2 232.5L361.2 232.4L362.2 232.3L363.1 232.1L364.1 232.0L365.1 231.7L366.0 231.5L367.0 231.2L367.9 230.9L368.9 230.6L369.8 230.2L370.7 229.9L371.6 229.5L372.5 229.0L373.4 228.6L374.2 228.1L375.1 227.6L375.9 227.1L376.8 226.6L377.6 226.1L378.4 225.6L379.3 225.1L380.1 224.6L380.9 224.0L381.8 223.5L382.6 222.9L383.4 222.4L384.2 221.8L385.1 221.3L385.9 220.7L386.7 220.1L387.5 219.6L388.3 219.0L389.1 218.4L389.9 217.8L390.7 217.2L391.5 216.6L392.3 216.0L393.1 215.4L393.8 214.8L394.6 214.1L395.4 213.5L396.1 212.9L396.9 212.3L397.7 211.6L398.4 211.0L399.2 210.3L399.9 209.7L400.6 209.0L401.4 208.3L402.1 207.6L402.8 207.0L403.5 206.3L404.2 205.6L404.9 204.9L405.6 204.2L406.3 203.5L407.0 202.8L407.7 202.0L408.4 201.3L409.0 200.6L409.7 199.9L410.3 199.1L411.0 198.4L411.6 197.6L412.2 196.9L412.8 196.1L413.5 195.3L414.1 194.5L414.7 193.8L415.2 193.0L415.8 192.2L416.4 191.4L417.0 190.6L417.5 189.8L418.1 188.9L418.6 188.1L419.1 187.3L419.6 186.5L420.2 185.6L420.7 184.8L421.2 183.9L421.7 183.1L422.2 182.2L422.6 181.4L423.1 180.5L423.6 179.6L424.1 178.8L424.6 177.9L425.0 177.0L425.5 176.1L425.9 175.3L426.4 174.4L426.9 173.5L427.3 172.6L427.8 171.8L428.2 170.9L428.7 170.0L429.1 169.1L429.6 168.2L430.0 167.3L430.5 166.5L430.9 165.6L431.4 164.7L431.9 163.8L432.3 163.0L432.8 162.1L433.3 161.2L433.7 160.3L434.2 159.5L434.7 158.6L435.2 157.8L435.7 156.9L436.2 156.0L436.7 155.2L437.2 154.3L437.7 153.5L438.2 152.6L438.7 151.8L439.2 151.0L439.7 150.1L440.2 149.3L440.7 148.4L441.2 147.6L441.6 146.7L442.1 145.9L442.6 145.0L443.1 144.1L443.5 143.3L444.0 142.4L444.4 141.5L444.8 140.6L445.2 139.8L445.6 138.9L446.0 138.0L446.4 137.1L446.8 136.2L447.2 135.2L447.5 134.3L447.9 133.4L448.2 132.5L448.6 131.6L448.9 130.6L449.3 129.7L449.6 128.8L449.9 127.9L450.3 126.9L450.6 126.0L451.0 125.1L451.3 124.1L451.7 123.2L452.0 122.3L452.4 121.4L452.7 120.4L453.1 119.5L453.4 118.6L453.7 117.6L454.1 116.7L454.4 115.8L454.8 114.8L455.1 113.9L455.4 113.0L455.7 112.0L456.0 111.1L456.4 110.2L456.7 109.2L457.0 108.3L457.2 107.3L457.5 106.4L457.8 105.4L458.1 104.5L458.3 103.5L458.6 102.6L458.8 101.6L459.0 100.7L459.3 99.7L459.5 98.8L459.7 97.8L459.9 96.8L460.0 95.9L460.2 94.9L460.3 93.9L460.5 93.0L460.6 92.0L460.7 91.0L460.8 90.0L460.9 89.0"/>
<path class="dt" stroke-dasharray="0.1 8.3" d="M110.5 99.4L111.6 99.4L112.6 99.5L113.6 99.4L114.7 99.4L115.7 99.4L116.8 99.3L117.8 99.3L118.8 99.2L119.9 99.1L120.9 99.1L122.0 99.0L123.0 98.9L124.0 98.8L125.1 98.6L126.1 98.5L127.2 98.4L128.2 98.3L129.2 98.1L130.3 98.0L131.3 97.8L132.3 97.7L133.4 97.6L134.4 97.4L135.4 97.2L136.5 97.1L137.5 96.9L138.5 96.8L139.6 96.6L140.6 96.4L141.6 96.3L142.7 96.1L143.7 95.9L144.7 95.8L145.8 95.6L146.8 95.4L147.8 95.2L148.9 95.0L149.9 94.9L150.9 94.7L152.0 94.5L153.0 94.3L154.0 94.1L155.1 94.0L156.1 93.8L157.1 93.6L158.1 93.4L159.2 93.2L160.2 93.0L161.2 92.9L162.3 92.7L163.3 92.5L164.3 92.3L165.4 92.1L166.4 91.9L167.4 91.8L168.5 91.6L169.5 91.4L170.5 91.2L171.6 91.0L172.6 90.9L173.6 90.7L174.7 90.5L175.7 90.4L176.7 90.2L177.8 90.0L178.8 89.9L179.8 89.7L180.9 89.5L181.9 89.4L182.9 89.2L184.0 89.1L185.0 88.9L186.0 88.8L187.1 88.6L188.1 88.5L189.1 88.3L190.2 88.2L191.2 88.0L192.3 87.9L193.3 87.8L194.3 87.7L195.4 87.5L196.4 87.4L197.4 87.3L198.5 87.2L199.5 87.1L200.6 87.0L201.6 86.9L202.6 86.8L203.7 86.7L204.7 86.6L205.8 86.5L206.8 86.4L207.9 86.3L208.9 86.3L209.9 86.2L211.0 86.1L212.0 86.1L213.1 86.0L214.1 86.0L215.2 85.9L216.2 85.9L217.2 85.9L218.3 85.9L219.3 85.8L220.4 85.8L221.4 85.8L222.5 85.8L223.5 85.8L224.6 85.8L225.6 85.8L226.7 85.9L227.7 85.9L228.8 85.9L229.8 86.0L230.9 86.0L231.9 86.1L233.0 86.1L234.0 86.2L235.1 86.3L236.1 86.3L237.2 86.4L238.2 86.5L239.3 86.6L240.3 86.8L241.4 86.9L242.4 87.0L243.4 87.1L244.5 87.3L245.5 87.5L246.6 87.6L247.6 87.8L248.6 88.0L249.7 88.2L250.7 88.4L251.7 88.6L252.7 88.9L253.8 89.1L254.8 89.4L255.8 89.6L256.8 89.9L257.8 90.2L258.8 90.5L259.8 90.8L260.8 91.1L261.8 91.5L262.8 91.8L263.8 92.2L264.7 92.5L265.7 92.9L266.7 93.3L267.6 93.7L268.6 94.2L269.5 94.6L270.5 95.1L271.4 95.6L272.3 96.1L273.2 96.6L274.1 97.1L275.0 97.7L275.8 98.2L276.7 98.8L277.5 99.4L278.4 100.1L279.2 100.7L279.9 101.4L280.7 102.1L281.5 102.8L282.2 103.6L282.9 104.3L283.6 105.1L284.3 105.9L285.0 106.7L285.6 107.5L286.3 108.3L286.9 109.2L287.5 110.0L288.1 110.9L288.7 111.7L289.3 112.6L289.9 113.5L290.5 114.3L291.0 115.2L291.6 116.1L292.1 117.0L292.7 117.9L293.2 118.8L293.7 119.7L294.2 120.6L294.7 121.6L295.2 122.5L295.7 123.4L296.2 124.3L296.7 125.3L297.1 126.2L297.6 127.1L298.1 128.1L298.6 129.0L299.0 130.0L299.5 130.9L300.0 131.8L300.4 132.8L300.9 133.7L301.3 134.7L301.8 135.6L302.3 136.6L302.7 137.5L303.2 138.4L303.7 139.4L304.1 140.3L304.6 141.3L305.0 142.2L305.5 143.2L306.0 144.1L306.4 145.0L306.9 146.0L307.3 146.9L307.8 147.9L308.2 148.8L308.7 149.8L309.1 150.7L309.5 151.7L310.0 152.6L310.4 153.6L310.8 154.5L311.3 155.5L311.7 156.4L312.1 157.4L312.5 158.4L312.9 159.3L313.3 160.3L313.7 161.2L314.0 162.2L314.4 163.2L314.8 164.2L315.2 165.1L315.5 166.1L315.9 167.1L316.3 168.0L316.6 169.0L317.0 170.0L317.4 171.0L317.7 171.9L318.1 172.9L318.4 173.9L318.8 174.9L319.2 175.9L319.5 176.8L319.9 177.8L320.3 178.8"/>
<path class="dt" stroke-dasharray="0.1 7.2" d="M320.3 178.8L320.7 179.7L321.0 180.7L321.4 181.7L321.8 182.7L322.2 183.6L322.6 184.6L323.0 185.5L323.4 186.5L323.8 187.5L324.3 188.4L324.7 189.4L325.1 190.3L325.6 191.3L326.1 192.2L326.5 193.2L327.0 194.1L327.5 195.0L328.0 196.0L328.5 196.9L329.1 197.8L329.6 198.7L330.1 199.6L330.7 200.6L331.3 201.5L331.9 202.4L332.5 203.2L333.1 204.1L333.7 205.0L334.4 205.9L335.1 206.7L335.7 207.5L336.4 208.4L337.1 209.2L337.8 210.0L338.6 210.7L339.3 211.5L340.0 212.2L340.8 212.9L341.6 213.6L342.4 214.3L343.2 214.9L344.0 215.6L344.9 216.1L345.7 216.7L346.6 217.2L347.4 217.8L348.3 218.2L349.2 218.7L350.1 219.1L351.1 219.5L352.0 219.8L353.0 220.1L353.9 220.4L354.9 220.6L355.9 220.8"/>
<path class="dt" stroke-dasharray="0.1 6.0" d="M355.9 220.8L356.9 221.0L357.9 221.2L359.0 221.3L360.0 221.3L361.0 221.4L362.1 221.4L363.1 221.4L364.2 221.3L365.2 221.3L366.3 221.2L367.4 221.1L368.4 220.9L369.5 220.8L370.5 220.6L371.6 220.4L372.7 220.2L373.7 219.9L374.8 219.7L375.8 219.4L376.9 219.1"/>
<path class="dt" stroke-dasharray="0.1 4.2" d="M376.9 219.1L377.9 218.8L378.9 218.5L379.9 218.1L380.9 217.8L381.9 217.4L382.9 217.1L383.9 216.7L384.9 216.3L385.8 215.9L386.8 215.5L387.7 215.0L388.7 214.6L389.6 214.1L390.5 213.6L391.4 213.2L392.3 212.6L393.2 212.1L394.1 211.6L394.9 211.0L395.8 210.5L396.7 209.9L397.5 209.3L398.3 208.7L399.2 208.0L400.0 207.4L400.8 206.7L401.6 206.1L402.4 205.4L403.2 204.7L403.9 203.9L404.7 203.2L405.4 202.5L406.2 201.7L406.9 201.0L407.6 200.2L408.3 199.4L409.0 198.7L409.7 197.9L410.4 197.1L411.1 196.2L411.7 195.4L412.4 194.6L413.0 193.8L413.7 192.9L414.3 192.1L414.9 191.2L415.5 190.4L416.1 189.5L416.7 188.6L417.3 187.8L417.8 186.9L418.4 186.0L418.9 185.1L419.5 184.2L420.0 183.3L420.6 182.4L421.1 181.5L421.6 180.6L422.1 179.7L422.7 178.8L423.2 177.9L423.7 177.0L424.2 176.1L424.7 175.2L425.2 174.2L425.7 173.3L426.1 172.4L426.6 171.4L427.1 170.5L427.6 169.6L428.1 168.7L428.5 167.7L429.0 166.8L429.5 165.9L430.0 164.9L430.4 164.0L430.9 163.0L431.4 162.1L431.9 161.2L432.3 160.2L432.8 159.3L433.3 158.4L433.8 157.5L434.3 156.5L434.7 155.6L435.2 154.7L435.7 153.8L436.2 152.8L436.7 151.9L437.2 151.0L437.7 150.1L438.2 149.2L438.8 148.3L439.3 147.4L439.8 146.5L440.3 145.6L440.9 144.7L441.4 143.8L441.9 142.9L442.5 142.0L443.0 141.1L443.5 140.2L444.0 139.3L444.5 138.4L445.0 137.5L445.5 136.6L445.9 135.6L446.4 134.7L446.8 133.8L447.3 132.8L447.7 131.9L448.1 130.9L448.6 130.0L449.0 129.0L449.4 128.1L449.8 127.1L450.2 126.1L450.6 125.2L450.9 124.2L451.3 123.2L451.7 122.2L452.0 121.2L452.4 120.3L452.8 119.3L453.1 118.3L453.5 117.3L453.8 116.3L454.2 115.3L454.5 114.3L454.9 113.3L455.2 112.3L455.5 111.3L455.9 110.3L456.2 109.3L456.5 108.3L456.9 107.3L457.2 106.3L457.5 105.3L457.8 104.3L458.2 103.3L458.5 102.3L458.7 101.3L459.0 100.3L459.3 99.3L459.5 98.3L459.8 97.3L460.0 96.3L460.2 95.3L460.3 94.2L460.5 93.2L460.6 92.2L460.7 91.1L460.8 90.1L460.8 89.0"/>
<path class="ds" stroke-dasharray="4.8 3.5" d="M96.4 96.2L97.4 96.2L98.5 96.1L99.5 96.1L100.6 96.0L101.6 95.9L102.7 95.8L103.7 95.7L104.8 95.6L105.8 95.4L106.9 95.2L107.9 95.1L109.0 94.9L110.0 94.7L111.1 94.4L112.1 94.2L113.2 94.0L114.2 93.8L115.3 93.5L116.3 93.3L117.4 93.1L118.4 92.8L119.5 92.6L120.5 92.4L121.6 92.2L122.6 91.9L123.7 91.7L124.7 91.5L125.8 91.3L126.8 91.1L127.9 90.9L128.9 90.8L130.0 90.6L131.1 90.4L132.1 90.2L133.2 90.1L134.2 89.9L135.3 89.7L136.3 89.6L137.4 89.4L138.5 89.3L139.5 89.1L140.6 89.0L141.6 88.9L142.7 88.7L143.8 88.6L144.8 88.4L145.9 88.3L146.9 88.1L148.0 87.9L149.0 87.8L150.1 87.6L151.1 87.4L152.2 87.2L153.2 87.0L154.3 86.8L155.3 86.6L156.4 86.4L157.4 86.1L158.4 85.9L159.5 85.6L160.5 85.3L161.6 85.1L162.6 84.8L163.6 84.5L164.7 84.2L165.7 83.9L166.7 83.6L167.8 83.3L168.8 83.0L169.9 82.7L170.9 82.4L171.9 82.1L173.0 81.8L174.0 81.5L175.0 81.2L176.1 81.0L177.1 80.7L178.1 80.4L179.2 80.2L180.2 79.9L181.3 79.7L182.3 79.5L183.3 79.2L184.4 79.0L185.4 78.8L186.5 78.6L187.5 78.4L188.6 78.2L189.6 78.0L190.6 77.8L191.7 77.7L192.7 77.5L193.8 77.3L194.8 77.2L195.9 77.0L196.9 76.9L198.0 76.7L199.0 76.6L200.1 76.4L201.1 76.3L202.2 76.2L203.2 76.1L204.3 75.9L205.3 75.8L206.4 75.7L207.5 75.6L208.5 75.5L209.6 75.4L210.6 75.3L211.7 75.3L212.8 75.2L213.8 75.1L214.9 75.0L216.0 75.0L217.0 74.9L218.1 74.8L219.2 74.8L220.2 74.7L221.3 74.7L222.4 74.6L223.5 74.6L224.6 74.5L225.6 74.5L226.7 74.4L227.8 74.4L228.9 74.4L230.0 74.3L231.0 74.3L232.1 74.3L233.2 74.3L234.3 74.3L235.4 74.2L236.5 74.2L237.6 74.2L238.7 74.2L239.8 74.3L240.9 74.3L241.9 74.3L243.0 74.3L244.1 74.4L245.2 74.4L246.3 74.5L247.4 74.5L248.4 74.6L249.5 74.7L250.6 74.8L251.7 74.9L252.7 75.0L253.8 75.1L254.9 75.3L255.9 75.4L257.0 75.6L258.0 75.7L259.1 75.9L260.1 76.1L261.1 76.4L262.2 76.6L263.2 76.8L264.2 77.1L265.2 77.4L266.2 77.7L267.2 78.0L268.2 78.3L269.2 78.7L270.2 79.1L271.2 79.5L272.2 79.9L273.1 80.3L274.1 80.7L275.0 81.2L276.0 81.7L276.9 82.2L277.8 82.7L278.7 83.3L279.6 83.8L280.5 84.4L281.4 85.0L282.3 85.7L283.1 86.3L284.0 86.9L284.8 87.6L285.6 88.3L286.5 89.0L287.3 89.7L288.1 90.4L288.8 91.2L289.6 91.9L290.4 92.7L291.1 93.5L291.8 94.3L292.6 95.1L293.3 95.9L293.9 96.7L294.6 97.6L295.3 98.4L295.9 99.3L296.6 100.1L297.2 101.0L297.8 101.9L298.4 102.8L299.0 103.7L299.5 104.6L300.1 105.5L300.7 106.4L301.2 107.3L301.7 108.3L302.3 109.2L302.8 110.1L303.3 111.1L303.8 112.0L304.3 113.0L304.8 113.9L305.2 114.9L305.7 115.9L306.2 116.8L306.7 117.8L307.1 118.8L307.6 119.7L308.0 120.7L308.5 121.7L308.9 122.6L309.3 123.6L309.8 124.6L310.2 125.6L310.6 126.5L311.1 127.5L311.5 128.5L311.9 129.5L312.4 130.4L312.8 131.4L313.2 132.4L313.6 133.4L314.1 134.4L314.5 135.3L314.9 136.3L315.4 137.3L315.8 138.3L316.2 139.3L316.6 140.2L317.1 141.2L317.5 142.2L317.9 143.2L318.4 144.2L318.8 145.1L319.2 146.1L319.6 147.1L320.1 148.1"/>
<path class="ds" stroke-dasharray="5.2 3.0" d="M320.1 148.1L320.5 149.1L320.9 150.1L321.3 151.0L321.7 152.0L322.1 153.0L322.6 154.0L323.0 155.0L323.4 156.0L323.8 157.0L324.2 158.0L324.6 159.0L325.0 159.9L325.4 160.9L325.8 161.9L326.2 162.9L326.5 163.9L326.9 164.9L327.3 165.9L327.7 166.9L328.1 167.9L328.4 168.9L328.8 169.9L329.2 170.9L329.5 171.9L329.9 172.9L330.3 173.9L330.6 174.9L331.0 175.9L331.3 176.9L331.7 177.9L332.1 178.9L332.5 179.9L332.8 180.9L333.2 181.9L333.6 182.9L334.0 183.9L334.4 184.9L334.8 185.9L335.2 186.9L335.6 187.9L336.1 188.9L336.5 189.9L337.0 190.9L337.4 191.8L337.9 192.8L338.4 193.8L338.9 194.7L339.4 195.7L340.0 196.6L340.6 197.5L341.1 198.4L341.8 199.3L342.4 200.2L343.0 201.1L343.7 201.9L344.4 202.7L345.1 203.5L345.9 204.3L346.6 205.0L347.4 205.8L348.2 206.5L349.0 207.1L349.9 207.8L350.7 208.4L351.6 209.0L352.5 209.5L353.4 210.0L354.4 210.5L355.3 210.9"/>
<path class="ds" stroke-dasharray="4.0 2.3" d="M355.3 210.9L356.3 211.3L357.3 211.7L358.3 212.0L359.3 212.3L360.3 212.5L361.4 212.7L362.4 212.9L363.5 213.1L364.5 213.2L365.6 213.3L366.6 213.3L367.7 213.3L368.8 213.3L369.8 213.2L370.9 213.2L372.0 213.1L373.1 212.9L374.1 212.8L375.2 212.6L376.3 212.4"/>
<path class="ds" stroke-dasharray="4.2 0.7" d="M376.3 212.4L377.3 212.1L378.4 211.9L379.4 211.6L380.5 211.3L381.5 210.9L382.6 210.6L383.6 210.2L384.6 209.8L385.6 209.4L386.6 209.0L387.6 208.6L388.6 208.1L389.6 207.7L390.6 207.2L391.5 206.7L392.5 206.2L393.4 205.7L394.3 205.1L395.2 204.6L396.1 204.0L397.0 203.5L397.9 202.9L398.8 202.3L399.7 201.6L400.5 201.0L401.4 200.4L402.2 199.7L403.0 199.1L403.8 198.4L404.6 197.7L405.4 197.0L406.2 196.3L407.0 195.6L407.8 194.8L408.5 194.1L409.3 193.3L410.0 192.6L410.7 191.8L411.5 191.0L412.2 190.2L412.9 189.4L413.6 188.6L414.3 187.8L414.9 187.0L415.6 186.1L416.3 185.3L416.9 184.4L417.6 183.6L418.2 182.7L418.9 181.8L419.5 181.0L420.1 180.1L420.7 179.2L421.3 178.3L421.9 177.4L422.5 176.5L423.1 175.6L423.6 174.7L424.2 173.8L424.8 172.8L425.3 171.9L425.9 171.0L426.4 170.1L427.0 169.1L427.5 168.2L428.0 167.3L428.5 166.3L429.0 165.4L429.6 164.5L430.1 163.5L430.6 162.6L431.1 161.6L431.6 160.7L432.1 159.7L432.6 158.8L433.1 157.8L433.5 156.9L434.0 156.0L434.5 155.0L435.0 154.1L435.5 153.1L436.0 152.2L436.5 151.3L437.0 150.3L437.5 149.4L438.0 148.5L438.6 147.5L439.1 146.6L439.6 145.7L440.1 144.7L440.6 143.8L441.1 142.9L441.6 141.9L442.1 141.0L442.6 140.1L443.1 139.1L443.6 138.2L444.0 137.2L444.5 136.3L445.0 135.3L445.4 134.4L445.9 133.4L446.3 132.4L446.8 131.5L447.2 130.5L447.6 129.5L448.1 128.5L448.5 127.6L449.0 126.6L449.4 125.6L449.8 124.6L450.3 123.6L450.7 122.7L451.1 121.7L451.5 120.7L452.0 119.7L452.4 118.7L452.8 117.7L453.2 116.7L453.6 115.7L454.0 114.7L454.4 113.7L454.8 112.7L455.1 111.7L455.5 110.7L455.9 109.7L456.2 108.7L456.6 107.7L456.9 106.7L457.2 105.6L457.6 104.6L457.9 103.6L458.2 102.6L458.5 101.6L458.7 100.5L459.0 99.5L459.3 98.5L459.5 97.4L459.7 96.4L459.9 95.3L460.1 94.3L460.3 93.3L460.5 92.2L460.6 91.2L460.8 90.1L460.9 89.0"/>
<path class="cv" d="M77.0 93.9L78.2 93.8L79.3 93.8L80.4 93.8L81.5 93.7L82.7 93.7L83.8 93.6L84.9 93.5L86.0 93.4L87.1 93.3L88.2 93.2L89.4 93.0L90.5 92.9L91.6 92.7L92.7 92.5L93.8 92.3L94.9 92.1L96.0 91.9L97.1 91.7L98.2 91.5L99.3 91.3L100.4 91.0L101.5 90.8L102.6 90.5L103.7 90.3L104.8 90.0L105.9 89.8L107.0 89.5L108.1 89.2L109.2 89.0L110.3 88.7L111.4 88.4L112.5 88.1L113.6 87.9L114.7 87.6L115.8 87.3L116.9 87.0L118.0 86.7L119.1 86.5L120.2 86.2L121.3 85.9L122.4 85.7L123.5 85.4L124.6 85.2L125.7 84.9L126.8 84.7L127.9 84.4L129.0 84.2L130.0 83.9L131.1 83.7L132.2 83.4L133.3 83.2L134.4 83.0L135.5 82.7L136.6 82.5L137.7 82.3L138.8 82.0L139.9 81.8L141.0 81.6L142.1 81.3L143.2 81.1L144.3 80.9L145.4 80.7L146.5 80.4L147.6 80.2L148.7 80.0L149.8 79.7L150.9 79.5L152.0 79.3L153.1 79.1L154.2 78.8L155.3 78.6L156.4 78.4L157.5 78.1L158.6 77.9L159.7 77.7L160.8 77.4L161.9 77.2L163.0 77.0L164.1 76.7L165.2 76.5L166.3 76.2L167.4 76.0L168.5 75.7L169.6 75.5L170.7 75.2L171.8 75.0L172.9 74.7L174.0 74.5L175.1 74.2L176.2 73.9L177.3 73.7L178.4 73.4L179.5 73.1L180.6 72.9L181.7 72.6L182.8 72.4L183.9 72.1L185.0 71.8L186.1 71.6L187.2 71.3L188.3 71.1L189.4 70.8L190.5 70.5L191.6 70.3L192.7 70.0L193.8 69.8L194.9 69.5L196.0 69.3L197.1 69.1L198.2 68.8L199.3 68.6L200.4 68.4L201.5 68.1L202.6 67.9L203.7 67.7L204.8 67.5L205.9 67.3L207.0 67.1L208.1 66.9L209.2 66.7L210.3 66.5L211.4 66.3L212.6 66.1L213.7 66.0L214.8 65.8L215.9 65.7L217.0 65.5L218.1 65.4L219.2 65.2L220.3 65.1L221.4 65.0L222.6 64.9L223.7 64.8L224.8 64.7L225.9 64.6L227.0 64.5L228.1 64.4L229.2 64.4L230.4 64.3L231.5 64.2L232.6 64.2L233.7 64.1L234.8 64.1L236.0 64.1L237.1 64.1L238.2 64.0L239.3 64.0L240.5 64.0L241.6 64.0L242.7 64.0L243.9 64.1L245.0 64.1L246.1 64.1L247.3 64.1L248.4 64.2L249.5 64.2L250.7 64.3L251.8 64.3L252.9 64.4L254.1 64.5L255.2 64.5L256.4 64.6L257.5 64.7L258.7 64.8L259.8 64.9L260.9 65.0L262.1 65.2L263.2 65.3L264.3 65.5L265.4 65.6L266.6 65.8L267.7 66.0L268.8 66.2L269.9 66.4L271.0 66.7L272.1 66.9L273.2 67.2L274.2 67.5L275.3 67.8L276.4 68.1L277.4 68.5L278.5 68.9L279.5 69.3L280.5 69.7L281.5 70.1L282.5 70.6L283.5 71.1L284.5 71.6L285.4 72.1L286.4 72.7L287.3 73.3L288.2 73.9L289.1 74.5L290.0 75.2L290.9 75.8L291.8 76.5L292.6 77.3L293.5 78.0L294.3 78.8L295.1 79.6L295.9 80.3L296.7 81.2L297.5 82.0L298.3 82.8L299.0 83.7L299.7 84.6L300.5 85.4L301.2 86.3L301.9 87.3L302.6 88.2L303.3 89.1L304.0 90.0L304.6 91.0L305.3 91.9L305.9 92.9L306.5 93.9L307.2 94.8L307.8 95.8L308.4 96.8L309.0 97.8L309.5 98.7L310.1 99.7L310.7 100.7L311.2 101.7L311.7 102.7L312.3 103.7L312.8 104.7L313.3 105.7L313.8 106.7L314.3 107.8L314.8 108.8L315.3 109.8L315.8 110.8L316.2 111.8L316.7 112.9L317.1 113.9L317.6 114.9L318.0 115.9L318.5 117.0L318.9 118.0L319.3 119.0L319.8 120.1L320.2 121.1L320.6 122.1L321.0 123.2L321.4 124.2L321.8 125.3L322.2 126.3L322.6 127.3L323.0 128.4L323.4 129.4L323.7 130.5L324.1 131.5L324.5 132.6L324.9 133.6L325.2 134.6L325.6 135.7L326.0 136.7L326.4 137.8L326.7 138.8L327.1 139.9L327.5 140.9L327.8 142.0L328.2 143.0L328.6 144.1L328.9 145.1L329.3 146.2L329.7 147.3L330.0 148.3L330.4 149.4L330.7 150.4L331.1 151.5L331.5 152.5L331.9 153.6L332.2 154.7L332.6 155.7L333.0 156.8L333.4 157.9L333.7 158.9L334.1 160.0L334.5 161.1L334.9 162.1L335.3 163.2L335.7 164.3L336.1 165.3L336.5 166.4L336.9 167.5L337.3 168.6L337.7 169.6L338.1 170.7L338.6 171.8L339.0 172.9L339.4 174.0L339.9 175.0L340.3 176.1L340.8 177.2L341.3 178.2L341.7 179.3L342.2 180.3L342.7 181.4L343.2 182.4L343.8 183.4L344.3 184.4L344.9 185.4L345.4 186.4L346.0 187.3L346.6 188.3L347.2 189.2L347.9 190.1L348.5 191.0L349.2 191.9L349.9 192.7L350.6 193.5L351.3 194.3L352.1 195.1L352.8 195.9L353.6 196.6L354.5 197.3L355.3 197.9L356.2 198.6L357.1 199.2L358.0 199.7L358.9 200.3L359.9 200.8L360.9 201.2L362.0 201.6L363.0 202.0L364.1 202.4L365.1 202.7L366.2 203.0L367.3 203.3L368.5 203.5L369.6 203.7L370.8 203.9L371.9 204.0L373.1 204.1L374.2 204.2L375.4 204.2L376.6 204.2L377.7 204.2L378.9 204.1L380.0 204.1L381.2 203.9L382.3 203.8L383.5 203.6L384.6 203.4L385.7 203.1L386.8 202.8L387.9 202.5L389.0 202.2L390.0 201.8L391.1 201.4L392.1 201.0L393.2 200.6L394.2 200.1L395.2 199.6L396.2 199.1L397.1 198.5L398.1 198.0L399.1 197.4L400.0 196.8L400.9 196.1L401.9 195.5L402.8 194.8L403.7 194.1L404.5 193.4L405.4 192.7L406.3 192.0L407.1 191.3L408.0 190.5L408.8 189.7L409.6 189.0L410.4 188.2L411.2 187.4L412.0 186.5L412.7 185.7L413.5 184.9L414.2 184.1L415.0 183.2L415.7 182.3L416.4 181.5L417.1 180.6L417.8 179.7L418.5 178.8L419.2 177.9L419.8 177.0L420.5 176.1L421.1 175.2L421.8 174.3L422.4 173.3L423.0 172.4L423.7 171.5L424.3 170.5L424.9 169.6L425.5 168.6L426.1 167.6L426.7 166.7L427.2 165.7L427.8 164.7L428.4 163.8L428.9 162.8L429.5 161.8L430.1 160.8L430.6 159.8L431.2 158.9L431.7 157.9L432.2 156.9L432.8 155.9L433.3 154.9L433.9 153.9L434.4 153.0L435.0 152.0L435.5 151.0L436.1 150.0L436.7 149.1L437.2 148.1L437.8 147.1L438.4 146.2L439.0 145.2L439.6 144.3L440.1 143.3L440.7 142.3L441.2 141.4L441.8 140.4L442.3 139.4L442.8 138.4L443.3 137.4L443.8 136.4L444.3 135.4L444.8 134.4L445.3 133.4L445.7 132.4L446.2 131.4L446.7 130.4L447.1 129.3L447.6 128.3L448.0 127.3L448.5 126.2L449.0 125.2L449.4 124.2L449.9 123.2L450.4 122.1L450.8 121.1L451.3 120.1L451.8 119.0L452.2 118.0L452.7 117.0L453.1 115.9L453.6 114.9L454.0 113.8L454.4 112.8L454.8 111.7L455.3 110.7L455.7 109.6L456.1 108.6L456.4 107.5L456.8 106.5L457.2 105.4L457.5 104.3L457.9 103.3L458.2 102.2L458.5 101.1L458.8 100.0L459.1 99.0L459.4 97.9L459.6 96.8L459.9 95.7L460.1 94.6L460.3 93.5L460.4 92.4L460.6 91.3L460.7 90.2L460.9 89.0"/>
<path class="dt" stroke-dasharray="0.1 8.3" d="M47.8 92.1L48.9 92.0L50.1 91.9L51.2 91.8L52.3 91.7L53.4 91.6L54.5 91.5L55.7 91.4L56.8 91.3L57.9 91.2L59.0 91.1L60.1 91.0L61.3 90.8L62.4 90.7L63.5 90.6L64.6 90.5L65.7 90.3L66.9 90.2L68.0 90.0L69.1 89.9L70.2 89.7L71.3 89.6L72.4 89.4L73.5 89.3L74.7 89.1L75.8 88.9L76.9 88.7L78.0 88.6L79.1 88.4L80.2 88.2L81.3 88.0L82.4 87.8L83.5 87.7L84.7 87.5L85.8 87.3L86.9 87.1L88.0 86.9L89.1 86.7L90.2 86.5L91.3 86.3L92.4 86.1L93.5 85.9L94.6 85.6L95.7 85.4L96.8 85.2L97.9 85.0L99.0 84.8L100.2 84.6L101.3 84.3L102.4 84.1L103.5 83.9L104.6 83.7L105.7 83.4L106.8 83.2L107.9 83.0L109.0 82.7L110.1 82.5L111.2 82.3L112.3 82.0L113.4 81.8L114.5 81.5L115.6 81.3L116.7 81.1L117.8 80.8L118.9 80.6L120.0 80.3L121.1 80.1L122.2 79.8L123.3 79.6L124.4 79.4L125.5 79.1L126.6 78.9L127.7 78.6L128.8 78.4L129.9 78.1L131.0 77.9L132.1 77.6L133.2 77.4L134.3 77.1L135.4 76.9L136.5 76.6L137.6 76.4L138.7 76.1L139.8 75.9L140.8 75.6L141.9 75.4L143.0 75.1L144.1 74.9L145.2 74.6L146.3 74.4L147.4 74.1L148.5 73.9L149.6 73.6L150.7 73.3L151.8 73.1L152.9 72.8L154.0 72.6L155.1 72.3L156.2 72.1L157.3 71.8L158.4 71.6L159.5 71.3L160.6 71.0L161.7 70.8L162.8 70.5L163.8 70.2L164.9 70.0L166.0 69.7L167.1 69.5L168.2 69.2L169.3 68.9L170.4 68.6L171.5 68.4L172.6 68.1L173.7 67.8L174.8 67.5L175.9 67.3L177.0 67.0L178.0 66.7L179.1 66.4L180.2 66.1L181.3 65.8L182.4 65.6L183.5 65.3L184.6 65.0L185.7 64.7L186.8 64.4L187.9 64.1L188.9 63.8L190.0 63.5L191.1 63.2L192.2 62.9L193.3 62.6L194.4 62.4L195.5 62.1L196.6 61.8L197.7 61.5L198.8 61.2L199.9 61.0L201.0 60.7L202.1 60.4L203.1 60.2L204.2 59.9L205.3 59.6L206.4 59.4L207.5 59.2L208.6 58.9L209.7 58.7L210.8 58.5L211.9 58.2L213.0 58.0L214.2 57.8L215.3 57.6L216.4 57.4L217.5 57.2L218.6 57.1L219.7 56.9L220.8 56.7L221.9 56.5L223.0 56.4L224.1 56.2L225.3 56.1L226.4 56.0L227.5 55.8L228.6 55.7L229.7 55.6L230.8 55.5L232.0 55.4L233.1 55.3L234.2 55.2L235.3 55.1L236.4 55.0L237.6 54.9L238.7 54.8L239.8 54.8L240.9 54.7L242.1 54.6L243.2 54.6L244.3 54.5L245.5 54.5L246.6 54.4L247.7 54.4L248.8 54.3L250.0 54.3L251.1 54.3L252.2 54.2L253.4 54.2L254.5 54.2L255.6 54.2L256.8 54.2L257.9 54.2L259.0 54.3L260.2 54.3L261.3 54.4L262.4 54.4L263.5 54.5L264.6 54.6L265.8 54.6L266.9 54.7L268.0 54.9L269.1 55.0L270.2 55.1L271.3 55.3L272.4 55.5L273.6 55.7L274.7 55.9L275.8 56.1L276.8 56.3L277.9 56.6L279.0 56.9L280.1 57.2L281.2 57.5L282.3 57.8L283.3 58.2L284.4 58.6L285.5 59.0L286.5 59.4L287.5 59.8L288.6 60.3L289.6 60.8L290.6 61.3L291.6 61.8L292.6 62.4L293.5 63.0L294.5 63.6L295.4 64.2L296.3 64.9L297.2 65.6L298.1 66.3L298.9 67.0L299.8 67.8L300.6 68.5L301.4 69.3L302.2 70.1L303.0 70.9L303.7 71.8L304.5 72.6L305.2 73.5L305.9 74.4L306.7 75.3L307.3 76.2L308.0 77.1L308.7 78.0L309.4 78.9L310.0 79.9L310.6 80.8L311.3 81.7L311.9 82.7L312.5 83.6L313.1 84.6L313.7 85.5L314.2 86.5L314.8 87.5L315.3 88.4L315.9 89.4L316.4 90.4L317.0 91.4L317.5 92.4L318.0 93.4L318.5 94.4L319.0 95.4L319.5 96.4L320.0 97.4L320.4 98.4"/>
<path class="dt" stroke-dasharray="0.1 7.2" d="M320.4 98.4L320.9 99.4L321.4 100.5L321.8 101.5L322.3 102.5L322.7 103.5L323.2 104.6L323.6 105.6L324.1 106.6L324.5 107.7L324.9 108.7L325.4 109.8L325.8 110.8L326.2 111.9L326.6 112.9L327.0 114.0L327.4 115.0L327.8 116.1L328.2 117.1L328.7 118.2L329.1 119.2L329.5 120.3L329.9 121.4L330.3 122.4L330.7 123.5L331.0 124.6L331.4 125.6L331.8 126.7L332.2 127.7L332.6 128.8L333.0 129.9L333.4 130.9L333.8 132.0L334.2 133.0L334.6 134.1L334.9 135.2L335.3 136.2L335.7 137.3L336.1 138.3L336.5 139.4L336.9 140.4L337.3 141.5L337.7 142.5L338.1 143.5L338.4 144.6L338.8 145.6L339.2 146.7L339.6 147.7L340.0 148.7L340.4 149.8L340.8 150.8L341.2 151.8L341.6 152.9L342.0 153.9L342.4 155.0L342.8 156.0L343.2 157.0L343.7 158.1L344.1 159.1L344.5 160.2L344.9 161.2L345.3 162.3L345.8 163.3L346.2 164.4L346.6 165.4L347.1 166.5L347.5 167.6L348.0 168.6L348.4 169.7L348.9 170.8L349.3 171.8L349.8 172.9L350.3 173.9L350.8 175.0L351.3 176.0L351.8 177.0L352.4 178.0L352.9 179.0L353.5 180.0L354.0 181.0L354.6 182.0L355.2 182.9"/>
<path class="dt" stroke-dasharray="0.1 6.0" d="M355.2 182.9L355.9 183.8L356.5 184.7L357.2 185.6L357.8 186.5L358.5 187.3L359.3 188.1L360.0 188.9L360.8 189.7L361.6 190.4L362.4 191.1L363.2 191.8L364.1 192.4L365.0 193.0L365.9 193.6L366.8 194.1L367.8 194.6L368.8 195.0L369.8 195.5L370.9 195.8L372.0 196.2L373.1 196.5L374.2 196.8L375.3 197.0L376.5 197.2"/>
<path class="dt" stroke-dasharray="0.1 4.2" d="M376.5 197.2L377.6 197.3L378.8 197.4L379.9 197.5L381.1 197.6L382.3 197.6L383.4 197.6L384.6 197.5L385.8 197.4L386.9 197.3L388.1 197.1L389.2 196.9L390.3 196.6L391.4 196.4L392.5 196.1L393.5 195.7L394.6 195.4L395.6 195.0L396.7 194.5L397.7 194.1L398.7 193.6L399.6 193.1L400.6 192.6L401.6 192.0L402.5 191.4L403.5 190.8L404.4 190.2L405.3 189.6L406.2 188.9L407.1 188.3L408.0 187.6L408.9 186.9L409.8 186.2L410.7 185.5L411.6 184.8L412.4 184.1L413.3 183.3L414.2 182.6L415.0 181.8L415.9 181.0L416.7 180.3L417.5 179.5L418.3 178.6L419.1 177.8L419.8 177.0L420.5 176.1L421.2 175.2L421.9 174.3L422.5 173.4L423.2 172.5L423.8 171.5L424.3 170.6L424.9 169.6L425.4 168.6L426.0 167.6L426.5 166.6L427.0 165.6L427.5 164.6L427.9 163.6L428.4 162.6L428.9 161.6L429.4 160.5L429.9 159.5L430.3 158.5L430.8 157.5L431.3 156.4L431.8 155.4L432.3 154.4L432.9 153.4L433.4 152.4L434.0 151.5L434.5 150.5L435.1 149.6L435.7 148.6L436.4 147.7L437.0 146.8L437.7 145.9L438.3 145.0L439.0 144.0L439.6 143.1L440.3 142.2L440.9 141.3L441.5 140.3L442.1 139.4L442.6 138.4L443.2 137.4L443.7 136.4L444.2 135.4L444.7 134.4L445.1 133.4L445.6 132.4L446.0 131.3L446.5 130.3L446.9 129.3L447.4 128.2L447.8 127.2L448.2 126.2L448.7 125.1L449.1 124.1L449.6 123.0L450.0 122.0L450.5 121.0L450.9 119.9L451.4 118.9L451.8 117.9L452.2 116.8L452.7 115.8L453.1 114.8L453.6 113.7L454.0 112.7L454.5 111.6L454.9 110.6L455.4 109.6L455.8 108.5L456.2 107.5L456.7 106.4L457.1 105.4L457.5 104.3L457.9 103.3L458.2 102.2L458.6 101.2L458.9 100.1L459.3 99.0L459.5 97.9L459.8 96.8L460.0 95.8L460.2 94.6L460.4 93.5L460.5 92.4L460.6 91.3L460.7 90.1L460.7 89.0"/>
<path class="ds" stroke-dasharray="4.8 3.5" d="M47.8 87.1L48.9 87.0L50.1 86.9L51.2 86.8L52.3 86.7L53.4 86.6L54.5 86.5L55.6 86.4L56.7 86.3L57.8 86.2L59.0 86.1L60.1 86.0L61.2 85.8L62.3 85.7L63.4 85.6L64.5 85.5L65.6 85.3L66.8 85.2L67.9 85.1L69.0 84.9L70.1 84.8L71.2 84.7L72.3 84.5L73.4 84.4L74.6 84.2L75.7 84.1L76.8 83.9L77.9 83.8L79.0 83.6L80.1 83.4L81.2 83.3L82.3 83.1L83.5 82.9L84.6 82.7L85.7 82.6L86.8 82.4L87.9 82.2L89.0 82.0L90.1 81.8L91.2 81.6L92.3 81.4L93.4 81.2L94.5 81.0L95.6 80.8L96.7 80.6L97.8 80.4L98.9 80.1L100.0 79.9L101.1 79.7L102.2 79.4L103.3 79.2L104.4 79.0L105.5 78.7L106.6 78.5L107.7 78.2L108.8 78.0L109.9 77.7L111.0 77.4L112.1 77.2L113.1 76.9L114.2 76.6L115.3 76.3L116.4 76.1L117.5 75.8L118.6 75.5L119.6 75.2L120.7 74.9L121.8 74.6L122.9 74.3L124.0 74.0L125.0 73.7L126.1 73.5L127.2 73.2L128.3 72.9L129.4 72.7L130.5 72.4L131.6 72.1L132.7 71.9L133.7 71.6L134.8 71.4L135.9 71.2L137.0 70.9L138.1 70.7L139.2 70.4L140.3 70.2L141.4 70.0L142.5 69.7L143.6 69.5L144.7 69.2L145.8 69.0L146.9 68.7L148.0 68.4L149.1 68.1L150.2 67.8L151.2 67.5L152.3 67.2L153.4 66.9L154.5 66.6L155.5 66.2L156.6 65.9L157.7 65.5L158.7 65.2L159.8 64.8L160.9 64.5L161.9 64.1L163.0 63.7L164.1 63.4L165.1 63.0L166.2 62.7L167.3 62.3L168.3 62.0L169.4 61.6L170.5 61.3L171.5 60.9L172.6 60.6L173.7 60.3L174.7 59.9L175.8 59.6L176.9 59.3L178.0 59.0L179.0 58.7L180.1 58.4L181.2 58.1L182.3 57.8L183.4 57.5L184.4 57.2L185.5 56.9L186.6 56.6L187.7 56.3L188.8 56.0L189.9 55.7L191.0 55.5L192.0 55.2L193.1 54.9L194.2 54.7L195.3 54.4L196.4 54.1L197.5 53.9L198.6 53.6L199.7 53.4L200.8 53.1L201.9 52.9L203.0 52.7L204.1 52.4L205.2 52.2L206.3 51.9L207.4 51.7L208.5 51.5L209.6 51.3L210.7 51.0L211.8 50.8L212.9 50.6L214.0 50.4L215.1 50.2L216.2 50.0L217.3 49.8L218.4 49.6L219.5 49.3L220.6 49.1L221.7 48.9L222.8 48.8L223.9 48.6L225.0 48.4L226.1 48.2L227.2 48.0L228.3 47.8L229.4 47.6L230.5 47.5L231.6 47.3L232.7 47.1L233.9 47.0L235.0 46.8L236.1 46.7L237.2 46.5L238.3 46.4L239.4 46.3L240.5 46.1L241.6 46.0L242.8 45.9L243.9 45.8L245.0 45.7L246.1 45.6L247.2 45.5L248.3 45.4L249.5 45.3L250.6 45.3L251.7 45.2L252.8 45.1L253.9 45.1L255.1 45.1L256.2 45.0L257.3 45.0L258.4 45.0L259.6 45.0L260.7 45.0L261.8 45.0L262.9 45.0L264.0 45.1L265.2 45.1L266.3 45.2L267.4 45.2L268.5 45.3L269.7 45.4L270.8 45.5L271.9 45.6L273.0 45.7L274.2 45.8L275.3 46.0L276.4 46.1L277.5 46.3L278.6 46.4L279.7 46.6L280.8 46.8L282.0 47.0L283.1 47.2L284.2 47.4L285.3 47.7L286.3 48.0L287.4 48.3L288.5 48.6L289.5 49.0L290.6 49.4L291.6 49.8L292.6 50.3L293.6 50.8L294.5 51.3L295.5 51.9L296.4 52.5L297.4 53.1L298.3 53.8L299.2 54.4L300.0 55.1L300.9 55.8L301.8 56.6L302.6 57.3L303.4 58.1L304.3 58.9L305.1 59.7L305.8 60.5L306.6 61.3L307.4 62.1L308.1 63.0L308.9 63.8L309.6 64.7L310.3 65.5L311.0 66.4L311.7 67.3L312.4 68.2L313.0 69.1L313.7 70.0L314.3 70.9L315.0 71.8L315.6 72.8L316.2 73.7L316.8 74.6L317.4 75.6L318.0 76.5L318.6 77.5L319.2 78.5L319.7 79.4L320.3 80.4"/>
<path class="ds" stroke-dasharray="5.2 3.0" d="M320.3 80.4L320.8 81.4L321.4 82.4L321.9 83.4L322.4 84.3L323.0 85.3L323.5 86.3L324.0 87.3L324.5 88.3L325.0 89.3L325.5 90.4L326.0 91.4L326.5 92.4L327.0 93.4L327.4 94.4L327.9 95.4L328.4 96.4L328.9 97.5L329.3 98.5L329.8 99.5L330.2 100.5L330.7 101.6L331.1 102.6L331.6 103.6L332.0 104.7L332.4 105.7L332.9 106.7L333.3 107.8L333.7 108.8L334.1 109.9L334.6 110.9L335.0 111.9L335.4 113.0L335.8 114.0L336.2 115.1L336.6 116.1L337.0 117.2L337.4 118.2L337.8 119.3L338.2 120.3L338.5 121.4L338.9 122.4L339.3 123.5L339.7 124.5L340.0 125.6L340.4 126.7L340.8 127.7L341.1 128.8L341.5 129.8L341.9 130.9L342.2 132.0L342.6 133.0L342.9 134.1L343.3 135.1L343.6 136.2L344.0 137.3L344.3 138.3L344.7 139.4L345.0 140.4L345.4 141.5L345.7 142.6L346.1 143.6L346.4 144.7L346.8 145.7L347.2 146.8L347.5 147.8L347.9 148.9L348.3 150.0L348.7 151.0L349.1 152.1L349.5 153.1L349.9 154.1L350.3 155.2L350.7 156.2L351.1 157.3L351.6 158.3L352.0 159.3L352.5 160.4L352.9 161.4L353.4 162.4L353.9 163.4L354.4 164.5L354.9 165.5L355.5 166.5"/>
<path class="ds" stroke-dasharray="4.0 2.3" d="M355.5 166.5L356.0 167.5L356.6 168.5L357.1 169.5L357.7 170.4L358.3 171.4L358.9 172.4L359.5 173.3L360.2 174.3L360.8 175.2L361.5 176.1L362.2 177.0L362.9 177.9L363.6 178.7L364.4 179.6L365.1 180.4L365.9 181.2L366.7 182.0L367.5 182.8L368.3 183.5L369.2 184.2L370.0 184.9L370.9 185.6L371.8 186.2L372.8 186.8L373.7 187.3L374.7 187.8L375.7 188.3L376.7 188.7"/>
<path class="ds" stroke-dasharray="4.2 0.7" d="M376.7 188.7L377.8 189.1L378.8 189.4L379.9 189.7L381.0 189.9L382.1 190.1L383.2 190.3L384.3 190.4L385.5 190.5L386.6 190.6L387.7 190.6L388.9 190.6L390.0 190.5L391.1 190.4L392.3 190.3L393.4 190.1L394.5 189.9L395.6 189.7L396.8 189.4L397.8 189.1L398.9 188.8L400.0 188.4L401.1 188.0L402.1 187.6L403.1 187.2L404.1 186.7L405.1 186.2L406.1 185.6L407.1 185.1L408.0 184.5L409.0 183.9L409.9 183.3L410.8 182.6L411.7 181.9L412.6 181.2L413.4 180.5L414.3 179.8L415.1 179.0L415.9 178.3L416.8 177.5L417.5 176.7L418.3 175.9L419.1 175.0L419.8 174.2L420.6 173.3L421.3 172.5L422.0 171.6L422.7 170.7L423.4 169.8L424.0 168.9L424.7 168.0L425.3 167.0L425.9 166.1L426.5 165.2L427.1 164.2L427.7 163.3L428.3 162.3L428.9 161.4L429.5 160.4L430.0 159.4L430.6 158.5L431.2 157.5L431.7 156.5L432.3 155.5L432.8 154.6L433.4 153.6L433.9 152.6L434.5 151.6L435.0 150.7L435.6 149.7L436.1 148.7L436.7 147.8L437.3 146.8L437.8 145.8L438.4 144.9L439.0 143.9L439.5 142.9L440.1 142.0L440.6 141.0L441.2 140.0L441.7 139.0L442.2 138.0L442.7 137.0L443.3 136.1L443.8 135.1L444.3 134.1L444.8 133.0L445.2 132.0L445.7 131.0L446.2 130.0L446.7 129.0L447.2 128.0L447.6 127.0L448.1 125.9L448.5 124.9L449.0 123.9L449.5 122.9L449.9 121.8L450.4 120.8L450.8 119.8L451.2 118.7L451.7 117.7L452.1 116.7L452.6 115.6L453.0 114.6L453.4 113.6L453.9 112.5L454.3 111.5L454.8 110.5L455.2 109.4L455.7 108.4L456.1 107.4L456.5 106.3L457.0 105.3L457.4 104.2L457.8 103.2L458.2 102.2L458.5 101.1L458.9 100.0L459.2 99.0L459.5 97.9L459.8 96.8L460.0 95.7L460.3 94.6L460.4 93.5L460.6 92.4L460.7 91.3L460.7 90.1L460.7 89.0"/>
<path class="cv" d="M47.8 82.5L48.9 82.3L50.0 82.2L51.1 82.0L52.2 81.8L53.3 81.6L54.4 81.4L55.5 81.2L56.6 81.0L57.7 80.9L58.8 80.7L59.9 80.5L61.0 80.3L62.1 80.1L63.2 80.0L64.3 79.8L65.4 79.6L66.5 79.4L67.6 79.3L68.7 79.1L69.8 78.9L70.9 78.7L72.0 78.5L73.1 78.4L74.3 78.2L75.4 78.0L76.5 77.8L77.6 77.7L78.7 77.5L79.8 77.3L80.9 77.1L82.0 76.9L83.1 76.8L84.2 76.6L85.3 76.4L86.4 76.2L87.5 76.0L88.6 75.9L89.7 75.7L90.8 75.5L91.9 75.3L93.0 75.1L94.2 74.9L95.3 74.7L96.4 74.5L97.5 74.3L98.6 74.2L99.7 74.0L100.8 73.8L101.9 73.6L103.0 73.4L104.1 73.2L105.2 73.0L106.3 72.8L107.4 72.5L108.5 72.3L109.6 72.1L110.7 71.9L111.8 71.7L112.9 71.5L114.0 71.3L115.1 71.1L116.2 70.8L117.3 70.6L118.4 70.4L119.5 70.1L120.6 69.9L121.7 69.7L122.8 69.4L123.8 69.2L124.9 69.0L126.0 68.7L127.1 68.5L128.2 68.2L129.3 68.0L130.4 67.7L131.5 67.4L132.6 67.2L133.6 66.9L134.7 66.6L135.8 66.4L136.9 66.1L138.0 65.8L139.1 65.5L140.1 65.2L141.2 64.9L142.3 64.7L143.4 64.4L144.4 64.1L145.5 63.8L146.6 63.4L147.7 63.1L148.7 62.8L149.8 62.5L150.9 62.2L151.9 61.8L153.0 61.5L154.1 61.2L155.1 60.8L156.2 60.5L157.3 60.1L158.3 59.8L159.4 59.4L160.4 59.1L161.5 58.7L162.6 58.4L163.6 58.0L164.7 57.6L165.7 57.3L166.8 56.9L167.8 56.5L168.9 56.2L170.0 55.8L171.0 55.4L172.1 55.1L173.1 54.7L174.2 54.3L175.2 53.9L176.3 53.6L177.3 53.2L178.4 52.8L179.5 52.5L180.5 52.1L181.6 51.8L182.6 51.4L183.7 51.1L184.8 50.7L185.8 50.3L186.9 50.0L187.9 49.7L189.0 49.3L190.1 49.0L191.1 48.7L192.2 48.3L193.3 48.0L194.4 47.7L195.4 47.4L196.5 47.1L197.6 46.8L198.7 46.5L199.7 46.2L200.8 45.9L201.9 45.6L203.0 45.3L204.1 45.1L205.2 44.8L206.3 44.5L207.4 44.3L208.5 44.1L209.6 43.8L210.7 43.6L211.8 43.4L212.9 43.1L214.0 42.9L215.1 42.7L216.2 42.5L217.3 42.3L218.4 42.1L219.5 41.9L220.6 41.7L221.7 41.5L222.8 41.3L223.9 41.2L225.0 41.0L226.1 40.8L227.3 40.6L228.4 40.5L229.5 40.3L230.6 40.2L231.7 40.0L232.8 39.8L233.9 39.7L235.0 39.5L236.1 39.4L237.2 39.2L238.3 39.1L239.4 38.9L240.6 38.8L241.7 38.6L242.8 38.5L243.9 38.3L245.0 38.2L246.1 38.1L247.2 37.9L248.3 37.8L249.4 37.7L250.5 37.5L251.6 37.4L252.7 37.3L253.8 37.2L254.9 37.1L256.0 37.0L257.1 36.9L258.2 36.8L259.3 36.7L260.4 36.6L261.5 36.6L262.6 36.5L263.7 36.5L264.8 36.4L265.9 36.4L267.0 36.4L268.1 36.4L269.2 36.4L270.3 36.4L271.4 36.5L272.5 36.5L273.7 36.6L274.8 36.7L275.9 36.8L277.0 36.9L278.2 37.0L279.3 37.1L280.4 37.3L281.6 37.5L282.7 37.7L283.8 37.9L285.0 38.1L286.1 38.3L287.2 38.6L288.3 38.9L289.4 39.2L290.5 39.5L291.6 39.8L292.7 40.2L293.8 40.6L294.9 41.0L295.9 41.4L297.0 41.8L298.0 42.3L299.1 42.8L300.1 43.3L301.1 43.8L302.0 44.3L303.0 44.9L303.9 45.4L304.8 46.1L305.7 46.7L306.6 47.3L307.5 48.0L308.4 48.7L309.2 49.4L310.0 50.1L310.8 50.8L311.6 51.6L312.4 52.3L313.1 53.1L313.9 53.9L314.6 54.8L315.3 55.6L316.0 56.4L316.7 57.3L317.4 58.2L318.1 59.0L318.7 59.9L319.4 60.9L320.0 61.8L320.6 62.7L321.2 63.6L321.8 64.6L322.4 65.5L323.0 66.5L323.6 67.5L324.1 68.5L324.7 69.4L325.2 70.4L325.8 71.4L326.3 72.4L326.8 73.4L327.3 74.5L327.9 75.5L328.4 76.5L328.9 77.5L329.4 78.5L329.8 79.6L330.3 80.6L330.8 81.6L331.3 82.6L331.8 83.7L332.2 84.7L332.7 85.7L333.2 86.7L333.6 87.8L334.1 88.8L334.5 89.8L335.0 90.9L335.4 91.9L335.9 92.9L336.3 93.9L336.7 95.0L337.1 96.0L337.6 97.0L338.0 98.1L338.4 99.1L338.8 100.1L339.2 101.2L339.6 102.2L340.0 103.2L340.4 104.3L340.8 105.3L341.2 106.4L341.5 107.4L341.9 108.5L342.3 109.5L342.6 110.5L343.0 111.6L343.3 112.6L343.7 113.7L344.0 114.7L344.4 115.8L344.7 116.9L345.1 117.9L345.4 119.0L345.7 120.0L346.0 121.1L346.4 122.1L346.7 123.2L347.0 124.3L347.3 125.3L347.7 126.4L348.0 127.5L348.3 128.5L348.6 129.6L349.0 130.7L349.3 131.7L349.6 132.8L349.9 133.9L350.3 134.9L350.6 136.0L351.0 137.0L351.3 138.1L351.6 139.2L352.0 140.2L352.4 141.3L352.7 142.4L353.1 143.4L353.5 144.5L353.8 145.6L354.2 146.6L354.6 147.7L355.0 148.7L355.4 149.8L355.8 150.9L356.3 151.9L356.7 153.0L357.1 154.0L357.6 155.1L358.0 156.1L358.5 157.2L359.0 158.2L359.5 159.2L360.0 160.3L360.5 161.3L361.1 162.3L361.6 163.3L362.2 164.2L362.8 165.2L363.4 166.2L364.0 167.1L364.6 168.0L365.3 168.9L365.9 169.8L366.6 170.7L367.3 171.6L368.0 172.4L368.8 173.2L369.6 174.0L370.4 174.7L371.2 175.5L372.0 176.2L372.9 176.8L373.8 177.5L374.7 178.1L375.7 178.7L376.6 179.3L377.6 179.8L378.6 180.3L379.6 180.7L380.7 181.2L381.7 181.6L382.8 181.9L383.8 182.3L384.9 182.5L386.0 182.8L387.1 183.0L388.2 183.2L389.3 183.4L390.5 183.5L391.6 183.5L392.7 183.6L393.8 183.6L394.9 183.5L396.0 183.4L397.1 183.3L398.2 183.1L399.3 182.9L400.4 182.7L401.4 182.4L402.5 182.0L403.5 181.7L404.6 181.3L405.6 180.8L406.6 180.3L407.6 179.8L408.6 179.3L409.5 178.7L410.5 178.1L411.4 177.4L412.3 176.8L413.3 176.1L414.1 175.3L415.0 174.6L415.9 173.8L416.7 173.1L417.5 172.2L418.3 171.4L419.1 170.6L419.9 169.7L420.7 168.9L421.4 168.0L422.1 167.1L422.8 166.2L423.5 165.3L424.1 164.4L424.7 163.5L425.4 162.5L426.0 161.6L426.5 160.7L427.1 159.7L427.7 158.8L428.3 157.8L428.8 156.9L429.4 155.9L430.0 155.0L430.5 154.1L431.1 153.1L431.7 152.2L432.3 151.3L432.9 150.4L433.5 149.5L434.2 148.6L434.8 147.7L435.5 146.8L436.2 145.9L436.9 145.0L437.6 144.2L438.3 143.3L439.0 142.4L439.7 141.5L440.3 140.6L441.0 139.7L441.6 138.8L442.2 137.8L442.7 136.9L443.3 135.9L443.8 134.9L444.3 133.9L444.8 132.9L445.3 131.9L445.7 130.9L446.2 129.9L446.6 128.9L447.0 127.8L447.5 126.8L447.9 125.7L448.3 124.7L448.7 123.7L449.2 122.6L449.6 121.6L450.0 120.6L450.5 119.5L450.9 118.5L451.4 117.5L451.9 116.5L452.3 115.5L452.8 114.5L453.3 113.4L453.8 112.4L454.3 111.4L454.8 110.4L455.2 109.4L455.7 108.4L456.1 107.3L456.6 106.3L457.0 105.3L457.4 104.2L457.8 103.2L458.2 102.1L458.6 101.1L458.9 100.0L459.2 98.9L459.5 97.9L459.7 96.8L460.0 95.7L460.2 94.6L460.4 93.5L460.5 92.4L460.6 91.3L460.7 90.1L460.7 89.0"/>
<path class="dt" stroke-dasharray="0.1 8.3" d="M47.8 77.8L48.9 77.7L50.0 77.5L51.1 77.4L52.2 77.2L53.3 77.0L54.4 76.9L55.5 76.7L56.7 76.6L57.8 76.4L58.9 76.2L60.0 76.1L61.1 75.9L62.2 75.8L63.3 75.6L64.4 75.4L65.5 75.3L66.6 75.1L67.7 75.0L68.8 74.8L69.9 74.6L71.0 74.5L72.1 74.3L73.2 74.1L74.4 74.0L75.5 73.8L76.6 73.6L77.7 73.5L78.8 73.3L79.9 73.1L81.0 72.9L82.1 72.8L83.2 72.6L84.3 72.4L85.4 72.2L86.5 72.0L87.6 71.9L88.7 71.7L89.8 71.5L90.9 71.3L92.0 71.1L93.1 70.9L94.2 70.7L95.3 70.5L96.4 70.3L97.5 70.1L98.6 69.9L99.7 69.7L100.8 69.5L101.9 69.2L103.0 69.0L104.1 68.8L105.2 68.6L106.3 68.3L107.4 68.1L108.4 67.8L109.5 67.6L110.6 67.3L111.7 67.1L112.8 66.8L113.9 66.6L114.9 66.3L116.0 66.0L117.1 65.7L118.2 65.4L119.2 65.1L120.3 64.8L121.4 64.5L122.5 64.2L123.5 63.9L124.6 63.6L125.7 63.3L126.7 63.0L127.8 62.7L128.9 62.4L130.0 62.1L131.0 61.7L132.1 61.4L133.2 61.1L134.2 60.8L135.3 60.5L136.4 60.2L137.4 59.9L138.5 59.6L139.6 59.3L140.7 59.0L141.7 58.7L142.8 58.4L143.9 58.1L145.0 57.8L146.0 57.5L147.1 57.2L148.2 56.9L149.3 56.7L150.3 56.4L151.4 56.1L152.5 55.8L153.6 55.5L154.6 55.2L155.7 54.9L156.8 54.7L157.9 54.4L159.0 54.1L160.0 53.8L161.1 53.5L162.2 53.2L163.3 53.0L164.3 52.7L165.4 52.4L166.5 52.1L167.6 51.8L168.6 51.5L169.7 51.2L170.8 50.9L171.9 50.6L172.9 50.3L174.0 50.0L175.1 49.7L176.2 49.4L177.2 49.0L178.3 48.7L179.4 48.4L180.4 48.1L181.5 47.8L182.6 47.4L183.6 47.1L184.7 46.8L185.8 46.5L186.8 46.1L187.9 45.8L189.0 45.5L190.0 45.2L191.1 44.8L192.2 44.5L193.2 44.2L194.3 43.8L195.4 43.5L196.5 43.2L197.5 42.9L198.6 42.5L199.7 42.2L200.7 41.9L201.8 41.5L202.9 41.2L203.9 40.9L205.0 40.6L206.1 40.2L207.2 39.9L208.2 39.6L209.3 39.3L210.4 39.0L211.5 38.6L212.5 38.3L213.6 38.0L214.7 37.7L215.8 37.4L216.9 37.1L217.9 36.8L219.0 36.5L220.1 36.2L221.2 35.9L222.3 35.6L223.3 35.4L224.4 35.1L225.5 34.8L226.6 34.5L227.7 34.3L228.8 34.0L229.9 33.7L230.9 33.5L232.0 33.2L233.1 33.0L234.2 32.7L235.3 32.5L236.4 32.3L237.5 32.1L238.6 31.8L239.7 31.6L240.8 31.4L241.9 31.2L243.0 31.0L244.1 30.8L245.2 30.7L246.3 30.5L247.4 30.3L248.5 30.2L249.6 30.0L250.7 29.9L251.8 29.7L252.9 29.6L254.0 29.5L255.1 29.3L256.2 29.2L257.3 29.1L258.4 29.0L259.5 29.0L260.6 28.9L261.7 28.8L262.9 28.8L264.0 28.7L265.1 28.7L266.2 28.7L267.3 28.6L268.4 28.6L269.6 28.6L270.7 28.6L271.8 28.7L272.9 28.7L274.0 28.7L275.2 28.8L276.3 28.8L277.4 28.9L278.5 29.0L279.7 29.1L280.8 29.2L281.9 29.3L283.0 29.4L284.2 29.6L285.3 29.7L286.4 29.9L287.5 30.1L288.7 30.3L289.8 30.5L290.9 30.7L292.0 31.0L293.1 31.2L294.2 31.5L295.3 31.8L296.3 32.1L297.4 32.5L298.5 32.8L299.5 33.2L300.6 33.6L301.6 34.0L302.6 34.4L303.6 34.9L304.6 35.4L305.6 35.9L306.5 36.4L307.5 36.9L308.4 37.5L309.3 38.1L310.2 38.7L311.1 39.4L312.0 40.0L312.8 40.7L313.7 41.5L314.5 42.2L315.3 43.0L316.1 43.7L316.8 44.6L317.6 45.4L318.3 46.2L319.0 47.1L319.7 47.9L320.4 48.8"/>
<path class="dt" stroke-dasharray="0.1 7.2" d="M320.4 48.8L321.1 49.7L321.8 50.6L322.5 51.6L323.1 52.5L323.7 53.4L324.4 54.4L325.0 55.3L325.6 56.3L326.2 57.3L326.8 58.2L327.3 59.2L327.9 60.2L328.5 61.2L329.0 62.1L329.6 63.1L330.1 64.1L330.6 65.1L331.2 66.1L331.7 67.1L332.2 68.1L332.7 69.1L333.2 70.1L333.7 71.1L334.1 72.1L334.6 73.1L335.1 74.1L335.5 75.1L336.0 76.1L336.4 77.1L336.9 78.1L337.3 79.2L337.7 80.2L338.2 81.2L338.6 82.2L339.0 83.3L339.4 84.3L339.8 85.3L340.2 86.4L340.6 87.4L341.0 88.4L341.4 89.5L341.8 90.5L342.2 91.6L342.6 92.6L343.0 93.7L343.3 94.7L343.7 95.8L344.1 96.8L344.4 97.9L344.8 98.9L345.2 100.0L345.5 101.0L345.9 102.1L346.2 103.2L346.6 104.2L347.0 105.3L347.3 106.3L347.7 107.4L348.0 108.5L348.3 109.5L348.7 110.6L349.0 111.7L349.4 112.7L349.7 113.8L350.1 114.9L350.4 115.9L350.8 117.0L351.1 118.1L351.5 119.2L351.8 120.2L352.1 121.3L352.5 122.4L352.8 123.4L353.2 124.5L353.5 125.5L353.9 126.6L354.2 127.7L354.6 128.7L354.9 129.8L355.3 130.9"/>
<path class="dt" stroke-dasharray="0.1 6.0" d="M355.3 130.9L355.6 131.9L356.0 133.0L356.3 134.0L356.7 135.1L357.1 136.1L357.4 137.2L357.8 138.2L358.2 139.3L358.5 140.3L358.9 141.4L359.3 142.4L359.7 143.4L360.1 144.5L360.5 145.5L360.9 146.6L361.3 147.6L361.7 148.6L362.1 149.6L362.6 150.7L363.0 151.7L363.4 152.7L363.9 153.8L364.3 154.8L364.8 155.8L365.3 156.8L365.8 157.8L366.3 158.8L366.8 159.9L367.3 160.9L367.8 161.9L368.4 162.9L368.9 163.9L369.5 164.9L370.1 165.8L370.7 166.8L371.4 167.7L372.0 168.6L372.7 169.5L373.5 170.3L374.3 171.1L375.1 171.9L375.9 172.6L376.8 173.3"/>
<path class="dt" stroke-dasharray="0.1 4.2" d="M376.8 173.3L377.7 174.0L378.6 174.6L379.6 175.1L380.6 175.7L381.6 176.1L382.6 176.5L383.6 176.9L384.6 177.2L385.7 177.5L386.7 177.7L387.8 177.8L388.9 177.9L389.9 178.0L391.0 178.0L392.1 177.9L393.2 177.8L394.3 177.7L395.4 177.5L396.5 177.3L397.6 177.1L398.6 176.8L399.7 176.4L400.8 176.1L401.9 175.7L402.9 175.3L404.0 174.8L405.0 174.3L406.1 173.8L407.1 173.3L408.1 172.8L409.1 172.2L410.1 171.6L411.1 171.0L412.0 170.4L413.0 169.8L413.9 169.1L414.8 168.4L415.7 167.8L416.6 167.1L417.4 166.4L418.3 165.7L419.1 164.9L420.0 164.2L420.8 163.5L421.6 162.7L422.4 161.9L423.2 161.2L424.0 160.4L424.7 159.6L425.5 158.8L426.2 158.0L427.0 157.2L427.7 156.3L428.5 155.5L429.2 154.7L429.9 153.8L430.6 153.0L431.4 152.1L432.1 151.3L432.8 150.4L433.5 149.5L434.2 148.7L434.9 147.8L435.6 146.9L436.2 146.0L436.9 145.1L437.6 144.2L438.2 143.3L438.8 142.3L439.5 141.4L440.1 140.5L440.7 139.5L441.2 138.6L441.8 137.6L442.3 136.7L442.9 135.7L443.4 134.7L443.9 133.7L444.4 132.7L444.9 131.7L445.4 130.7L445.8 129.7L446.3 128.7L446.8 127.7L447.2 126.7L447.7 125.6L448.1 124.6L448.6 123.6L449.0 122.6L449.5 121.5L450.0 120.5L450.4 119.5L450.9 118.5L451.4 117.5L451.8 116.4L452.3 115.4L452.8 114.4L453.3 113.4L453.7 112.4L454.2 111.4L454.7 110.3L455.2 109.3L455.6 108.3L456.1 107.3L456.5 106.2L456.9 105.2L457.3 104.2L457.7 103.1L458.1 102.1L458.4 101.0L458.8 100.0L459.1 98.9L459.4 97.9L459.7 96.8L459.9 95.7L460.1 94.6L460.3 93.5L460.5 92.4L460.6 91.3L460.7 90.1L460.7 89.0"/>
<path d="M434.2 148.7L434.9 147.8L435.6 146.9L436.2 146.0L436.9 145.1L437.6 144.2L438.2 143.3L438.8 142.3L439.5 141.4L440.1 140.5L440.7 139.5L441.2 138.6L441.8 137.6L442.3 136.7L442.9 135.7L443.4 134.7L443.9 133.7L444.4 132.7L444.9 131.7L445.4 130.7L445.8 129.7L446.3 128.7L446.8 127.7L447.2 126.7L447.7 125.6L448.1 124.6L448.6 123.6L449.0 122.6L449.5 121.5L450.0 120.5L450.4 119.5L450.9 118.5L451.4 117.5L451.8 116.4L452.3 115.4L452.8 114.4L453.3 113.4L453.7 112.4L454.2 111.4L454.7 110.3L455.2 109.3L455.6 108.3L456.1 107.3L456.5 106.2L456.9 105.2L457.3 104.2L457.7 103.1L458.1 102.1L458.4 101.0L458.8 100.0L459.1 98.9L459.4 97.9L459.7 96.8L459.9 95.7L460.1 94.6L460.3 93.5L460.5 92.4L460.6 91.3L460.7 90.1L460.7 89.0L461.1 89.1L460.9 90.2L460.8 91.4L460.6 92.6L460.4 93.7L460.2 94.9L460.0 96.1L459.8 97.2L459.6 98.4L459.3 99.5L459.1 100.7L458.9 101.9L458.7 103.0L458.4 104.2L458.2 105.4L457.9 106.5L457.7 107.7L457.4 108.8L457.1 110.0L456.8 111.2L456.6 112.3L456.3 113.5L456.0 114.6L455.7 115.8L455.4 116.9L455.1 118.1L454.8 119.2L454.5 120.4L454.1 121.5L453.8 122.7L453.5 123.8L453.1 125.0L452.8 126.1L452.5 127.3L452.1 128.4L451.7 129.5L451.4 130.7L451.0 131.8L450.6 132.9L450.3 134.1L449.9 135.2L449.5 136.3L449.1 137.4L448.7 138.6L448.3 139.7L447.9 140.8L447.5 141.9L447.1 143.0L446.6 144.1L446.2 145.2L445.8 146.4L445.4 147.5L444.9 148.6Z" fill="#111" stroke="#111" stroke-width="1.2" stroke-linejoin="round"/>
<path d="M419.9 169.7L420.7 168.9L421.4 168.0L422.1 167.1L422.8 166.2L423.5 165.3L424.1 164.4L424.7 163.5L425.4 162.5L426.0 161.6L426.5 160.7L427.1 159.7L427.7 158.8L428.3 157.8L428.8 156.9L429.4 155.9L430.0 155.0L430.5 154.1L431.1 153.1L431.7 152.2L432.3 151.3L432.9 150.4L433.5 149.5L434.2 148.6L434.8 147.7L435.5 146.8L436.2 145.9L436.9 145.0L437.6 144.2L438.3 143.3L439.0 142.4L439.7 141.5L440.3 140.6L441.0 139.7L441.6 138.8L442.2 137.8L442.7 136.9L443.3 135.9L443.8 134.9L444.3 133.9L444.8 132.9L445.3 131.9L445.7 130.9L446.2 129.9L446.6 128.9L447.0 127.8L447.5 126.8L447.9 125.7L448.3 124.7L448.7 123.7L449.2 122.6L449.6 121.6L450.0 120.6L450.5 119.5L450.9 118.5L451.4 117.5L451.9 116.5L452.3 115.5L452.8 114.5L453.3 113.4L453.8 112.4L454.3 111.4L454.8 110.4L455.2 109.4L455.7 108.4L456.1 107.3L456.6 106.3L457.0 105.3L457.4 104.2L457.8 103.2L458.2 102.1L458.6 101.1L458.9 100.0L459.2 98.9L459.5 97.9L459.7 96.8L460.0 95.7L460.2 94.6L460.4 93.5L460.5 92.4L460.6 91.3L460.7 90.1L460.7 89.0" fill="none" stroke="#111" stroke-width="1.9"/>
<path d="M423.4 169.8L424.0 168.9L424.7 168.0L425.3 167.0L425.9 166.1L426.5 165.2L427.1 164.2L427.7 163.3L428.3 162.3L428.9 161.4L429.5 160.4L430.0 159.4L430.6 158.5L431.2 157.5L431.7 156.5L432.3 155.5L432.8 154.6L433.4 153.6L433.9 152.6L434.5 151.6L435.0 150.7L435.6 149.7L436.1 148.7L436.7 147.8L437.3 146.8L437.8 145.8L438.4 144.9L439.0 143.9L439.5 142.9L440.1 142.0L440.6 141.0L441.2 140.0L441.7 139.0L442.2 138.0L442.7 137.0L443.3 136.1L443.8 135.1L444.3 134.1L444.8 133.0L445.2 132.0L445.7 131.0L446.2 130.0L446.7 129.0L447.2 128.0L447.6 127.0L448.1 125.9L448.5 124.9L449.0 123.9L449.5 122.9L449.9 121.8L450.4 120.8L450.8 119.8L451.2 118.7L451.7 117.7L452.1 116.7L452.6 115.6L453.0 114.6L453.4 113.6L453.9 112.5L454.3 111.5L454.8 110.5L455.2 109.4L455.7 108.4L456.1 107.4L456.5 106.3L457.0 105.3L457.4 104.2L457.8 103.2L458.2 102.2L458.5 101.1L458.9 100.0L459.2 99.0L459.5 97.9L459.8 96.8L460.0 95.7L460.3 94.6L460.4 93.5L460.6 92.4L460.7 91.3L460.7 90.1L460.7 89.0" fill="none" stroke="#111" stroke-width="1.9"/>
<path d="M424.9 169.6L425.4 168.6L426.0 167.6L426.5 166.6L427.0 165.6L427.5 164.6L427.9 163.6L428.4 162.6L428.9 161.6L429.4 160.5L429.9 159.5L430.3 158.5L430.8 157.5L431.3 156.4L431.8 155.4L432.3 154.4L432.9 153.4L433.4 152.4L434.0 151.5L434.5 150.5L435.1 149.6L435.7 148.6L436.4 147.7L437.0 146.8L437.7 145.9L438.3 145.0L439.0 144.0L439.6 143.1L440.3 142.2L440.9 141.3L441.5 140.3L442.1 139.4L442.6 138.4L443.2 137.4L443.7 136.4L444.2 135.4L444.7 134.4L445.1 133.4L445.6 132.4L446.0 131.3L446.5 130.3L446.9 129.3L447.4 128.2L447.8 127.2L448.2 126.2L448.7 125.1L449.1 124.1L449.6 123.0L450.0 122.0L450.5 121.0L450.9 119.9L451.4 118.9L451.8 117.9L452.2 116.8L452.7 115.8L453.1 114.8L453.6 113.7L454.0 112.7L454.5 111.6L454.9 110.6L455.4 109.6L455.8 108.5L456.2 107.5L456.7 106.4L457.1 105.4L457.5 104.3L457.9 103.3L458.2 102.2L458.6 101.2L458.9 100.1L459.3 99.0L459.5 97.9L459.8 96.8L460.0 95.8L460.2 94.6L460.4 93.5L460.5 92.4L460.6 91.3L460.7 90.1L460.7 89.0" fill="none" stroke="#111" stroke-width="1.9"/>
<path d="M424.9 169.6L425.5 168.6L426.1 167.6L426.7 166.7L427.2 165.7L427.8 164.7L428.4 163.8L428.9 162.8L429.5 161.8L430.1 160.8L430.6 159.8L431.2 158.9L431.7 157.9L432.2 156.9L432.8 155.9L433.3 154.9L433.9 153.9L434.4 153.0L435.0 152.0L435.5 151.0L436.1 150.0L436.7 149.1L437.2 148.1L437.8 147.1L438.4 146.2L439.0 145.2L439.6 144.3L440.1 143.3L440.7 142.3L441.2 141.4L441.8 140.4L442.3 139.4L442.8 138.4L443.3 137.4L443.8 136.4L444.3 135.4L444.8 134.4L445.3 133.4L445.7 132.4L446.2 131.4L446.7 130.4L447.1 129.3L447.6 128.3L448.0 127.3L448.5 126.2L449.0 125.2L449.4 124.2L449.9 123.2L450.4 122.1L450.8 121.1L451.3 120.1L451.8 119.0L452.2 118.0L452.7 117.0L453.1 115.9L453.6 114.9L454.0 113.8L454.4 112.8L454.8 111.7L455.3 110.7L455.7 109.6L456.1 108.6L456.4 107.5L456.8 106.5L457.2 105.4L457.5 104.3L457.9 103.3L458.2 102.2L458.5 101.1L458.8 100.0L459.1 99.0L459.4 97.9L459.6 96.8L459.9 95.7L460.1 94.6L460.3 93.5L460.4 92.4L460.6 91.3L460.7 90.2L460.9 89.0" fill="none" stroke="#111" stroke-width="1.9"/>
<path d="M427.0 169.1L427.5 168.2L428.0 167.3L428.5 166.3L429.0 165.4L429.6 164.5L430.1 163.5L430.6 162.6L431.1 161.6L431.6 160.7L432.1 159.7L432.6 158.8L433.1 157.8L433.5 156.9L434.0 156.0L434.5 155.0L435.0 154.1L435.5 153.1L436.0 152.2L436.5 151.3L437.0 150.3L437.5 149.4L438.0 148.5L438.6 147.5L439.1 146.6L439.6 145.7L440.1 144.7L440.6 143.8L441.1 142.9L441.6 141.9L442.1 141.0L442.6 140.1L443.1 139.1L443.6 138.2L444.0 137.2L444.5 136.3L445.0 135.3L445.4 134.4L445.9 133.4L446.3 132.4L446.8 131.5L447.2 130.5L447.6 129.5L448.1 128.5L448.5 127.6L449.0 126.6L449.4 125.6L449.8 124.6L450.3 123.6L450.7 122.7L451.1 121.7L451.5 120.7L452.0 119.7L452.4 118.7L452.8 117.7L453.2 116.7L453.6 115.7L454.0 114.7L454.4 113.7L454.8 112.7L455.1 111.7L455.5 110.7L455.9 109.7L456.2 108.7L456.6 107.7L456.9 106.7L457.2 105.6L457.6 104.6L457.9 103.6L458.2 102.6L458.5 101.6L458.7 100.5L459.0 99.5L459.3 98.5L459.5 97.4L459.7 96.4L459.9 95.3L460.1 94.3L460.3 93.3L460.5 92.2L460.6 91.2L460.8 90.1L460.9 89.0" fill="none" stroke="#111" stroke-width="1.9"/>
<path d="M427.6 169.6L428.1 168.7L428.5 167.7L429.0 166.8L429.5 165.9L430.0 164.9L430.4 164.0L430.9 163.0L431.4 162.1L431.9 161.2L432.3 160.2L432.8 159.3L433.3 158.4L433.8 157.5L434.3 156.5L434.7 155.6L435.2 154.7L435.7 153.8L436.2 152.8L436.7 151.9L437.2 151.0L437.7 150.1L438.2 149.2L438.8 148.3L439.3 147.4L439.8 146.5L440.3 145.6L440.9 144.7L441.4 143.8L441.9 142.9L442.5 142.0L443.0 141.1L443.5 140.2L444.0 139.3L444.5 138.4L445.0 137.5L445.5 136.6L445.9 135.6L446.4 134.7L446.8 133.8L447.3 132.8L447.7 131.9L448.1 130.9L448.6 130.0L449.0 129.0L449.4 128.1L449.8 127.1L450.2 126.1L450.6 125.2L450.9 124.2L451.3 123.2L451.7 122.2L452.0 121.2L452.4 120.3L452.8 119.3L453.1 118.3L453.5 117.3L453.8 116.3L454.2 115.3L454.5 114.3L454.9 113.3L455.2 112.3L455.5 111.3L455.9 110.3L456.2 109.3L456.5 108.3L456.9 107.3L457.2 106.3L457.5 105.3L457.8 104.3L458.2 103.3L458.5 102.3L458.7 101.3L459.0 100.3L459.3 99.3L459.5 98.3L459.8 97.3L460.0 96.3L460.2 95.3L460.3 94.2L460.5 93.2L460.6 92.2L460.7 91.1L460.8 90.1L460.8 89.0" fill="none" stroke="#111" stroke-width="1.9"/>
<path d="M428.7 170.0L429.1 169.1L429.6 168.2L430.0 167.3L430.5 166.5L430.9 165.6L431.4 164.7L431.9 163.8L432.3 163.0L432.8 162.1L433.3 161.2L433.7 160.3L434.2 159.5L434.7 158.6L435.2 157.8L435.7 156.9L436.2 156.0L436.7 155.2L437.2 154.3L437.7 153.5L438.2 152.6L438.7 151.8L439.2 151.0L439.7 150.1L440.2 149.3L440.7 148.4L441.2 147.6L441.6 146.7L442.1 145.9L442.6 145.0L443.1 144.1L443.5 143.3L444.0 142.4L444.4 141.5L444.8 140.6L445.2 139.8L445.6 138.9L446.0 138.0L446.4 137.1L446.8 136.2L447.2 135.2L447.5 134.3L447.9 133.4L448.2 132.5L448.6 131.6L448.9 130.6L449.3 129.7L449.6 128.8L449.9 127.9L450.3 126.9L450.6 126.0L451.0 125.1L451.3 124.1L451.7 123.2L452.0 122.3L452.4 121.4L452.7 120.4L453.1 119.5L453.4 118.6L453.7 117.6L454.1 116.7L454.4 115.8L454.8 114.8L455.1 113.9L455.4 113.0L455.7 112.0L456.0 111.1L456.4 110.2L456.7 109.2L457.0 108.3L457.2 107.3L457.5 106.4L457.8 105.4L458.1 104.5L458.3 103.5L458.6 102.6L458.8 101.6L459.0 100.7L459.3 99.7L459.5 98.8L459.7 97.8L459.9 96.8L460.0 95.9L460.2 94.9L460.3 93.9L460.5 93.0L460.6 92.0L460.7 91.0L460.8 90.0L460.9 89.0" fill="none" stroke="#111" stroke-width="1.9"/>
<path d="M430.7 169.7L431.1 168.8L431.5 168.0L432.0 167.1L432.4 166.3L432.8 165.4L433.3 164.6L433.7 163.7L434.1 162.9L434.6 162.0L435.0 161.2L435.5 160.3L435.9 159.5L436.4 158.7L436.8 157.8L437.3 157.0L437.7 156.1L438.2 155.3L438.7 154.5L439.2 153.6L439.6 152.8L440.1 152.0L440.6 151.1L441.0 150.3L441.5 149.4L442.0 148.6L442.4 147.8L442.9 146.9L443.3 146.1L443.7 145.2L444.2 144.4L444.6 143.5L445.0 142.7L445.4 141.8L445.8 140.9L446.2 140.1L446.5 139.2L446.9 138.3L447.2 137.4L447.5 136.5L447.9 135.6L448.2 134.8L448.5 133.9L448.8 133.0L449.1 132.1L449.4 131.2L449.7 130.3L450.0 129.4L450.3 128.5L450.6 127.5L450.9 126.6L451.2 125.7L451.5 124.8L451.8 123.9L452.2 123.0L452.5 122.1L452.8 121.2L453.1 120.3L453.4 119.4L453.7 118.5L454.1 117.6L454.4 116.7L454.7 115.8L455.0 114.9L455.3 114.0L455.6 113.1L455.9 112.2L456.2 111.3L456.5 110.4L456.8 109.5L457.1 108.6L457.3 107.7L457.6 106.7L457.9 105.8L458.1 104.9L458.4 104.0L458.6 103.1L458.8 102.1L459.1 101.2L459.3 100.3L459.5 99.4L459.7 98.4L459.8 97.5L460.0 96.6L460.2 95.6L460.3 94.7L460.4 93.8L460.5 92.8L460.6 91.9L460.7 90.9L460.8 90.0L460.9 89.0" fill="none" stroke="#111" stroke-width="1.9"/>
<path d="M433.9 169.3L434.3 168.5L434.7 167.7L435.1 166.8L435.5 166.0L435.8 165.1L436.2 164.3L436.6 163.5L437.0 162.7L437.4 161.8L437.8 161.0L438.2 160.2L438.6 159.3L439.0 158.5L439.4 157.7L439.8 156.9L440.1 156.0L440.5 155.2L440.9 154.4L441.3 153.6L441.7 152.7L442.1 151.9L442.5 151.1L442.9 150.2L443.2 149.4L443.6 148.6L444.0 147.7L444.4 146.9L444.7 146.1L445.1 145.2L445.5 144.4L445.8 143.6L446.2 142.7L446.5 141.9L446.9 141.0L447.2 140.2L447.5 139.3L447.8 138.5L448.2 137.6L448.5 136.8L448.8 135.9L449.1 135.0L449.4 134.2L449.7 133.3L450.0 132.4L450.3 131.6L450.6 130.7L450.8 129.8L451.1 128.9L451.4 128.1L451.7 127.2L451.9 126.3L452.2 125.4L452.5 124.6L452.7 123.7L453.0 122.8L453.2 121.9L453.5 121.0L453.8 120.2L454.0 119.3L454.3 118.4L454.5 117.5L454.8 116.6L455.0 115.7L455.3 114.9L455.6 114.0L455.8 113.1L456.1 112.2L456.3 111.3L456.6 110.5L456.8 109.6L457.1 108.7L457.4 107.8L457.6 106.9L457.9 106.1L458.1 105.2L458.4 104.3L458.6 103.4L458.9 102.5L459.1 101.7L459.3 100.8L459.5 99.9L459.7 99.0L459.9 98.1L460.1 97.2L460.2 96.3L460.4 95.4L460.5 94.5L460.6 93.6L460.7 92.7L460.8 91.8L460.8 90.9L460.8 89.9L460.8 89.0" fill="none" stroke="#111" stroke-width="1.9"/>
<path d="M366.5 64.1L348.6 72.6" stroke="#111" stroke-width="1.1" fill="none"/><path d="M337.3 78.0L347.8 71.0L349.4 74.3Z" fill="#111"/>
<path d="M240.0 245.2L259.1 236.1" stroke="#111" stroke-width="1.1" fill="none"/><path d="M270.4 230.7L259.9 237.7L258.3 234.5Z" fill="#111"/>
<text transform="translate(178,8.7) scale(1.12,1)" font-size="9.8" text-anchor="start" textLength="133.48" lengthAdjust="spacing" stroke-width="0.52">MIXTURE TEMPERATURE</text>
<text transform="translate(194.9,343.3) scale(1.12,1)" font-size="9.8" text-anchor="start" textLength="108.93" lengthAdjust="spacing" stroke-width="0.52">HF CONCENTRATION</text>
<g transform="translate(10.8,218.0) rotate(-90)"><text transform="scale(1.12,1)" font-size="9" letter-spacing="0.7" stroke-width="0.36">TEMPERATURE <tspan dy="-3.0" font-size="7.2">o</tspan><tspan dy="3.0">C</tspan></text></g>
<text transform="translate(20.4,22.0) scale(1.12,1)" font-size="9.9" text-anchor="start" letter-spacing="0.25">40</text>
<text transform="translate(20.4,69.2) scale(1.12,1)" font-size="9.9" text-anchor="start" letter-spacing="0.25">30</text>
<text transform="translate(20.4,116.5) scale(1.12,1)" font-size="9.9" text-anchor="start" letter-spacing="0.25">20</text>
<text transform="translate(20.4,165.8) scale(1.12,1)" font-size="9.9" text-anchor="start" letter-spacing="0.25">10</text>
<text transform="translate(20.4,214.1) scale(1.12,1)" font-size="9.9" text-anchor="start" letter-spacing="0.25">0</text>
<text transform="translate(20.6,264.1) scale(1.12,1)" font-size="9.9" text-anchor="start" letter-spacing="0.25"><tspan font-size="8">-</tspan><tspan dx="1.1">10</tspan></text>
<text transform="translate(20.6,311.9) scale(1.12,1)" font-size="9.9" text-anchor="start" letter-spacing="0.25"><tspan font-size="8">-</tspan><tspan dx="1.1">20</tspan></text>
<text transform="translate(39.2,321.6) scale(1.12,1)" font-size="9.8" text-anchor="start" textLength="25.18" lengthAdjust="spacing">1E&#8211;3</text>
<text transform="translate(175.5,322.1) scale(1.12,1)" font-size="9.8" text-anchor="start" textLength="19.64" lengthAdjust="spacing">0.01</text>
<text transform="translate(312.0,322.7) scale(1.12,1)" font-size="9.8" text-anchor="start" textLength="14.29" lengthAdjust="spacing">0.1</text>
<text transform="translate(462.4,323.8) scale(1.12,1)" font-size="9.8" text-anchor="start">1</text>
<text transform="translate(371.9,65.4) scale(1.12,1)" font-size="9.6" text-anchor="start" textLength="46.96" lengthAdjust="spacing" stroke-width="0.42">RH=100%</text>
<text transform="translate(199.9,247.4) scale(1.12,1)" font-size="9.6" text-anchor="start" textLength="25.89" lengthAdjust="spacing">RH=0</text>
<path class="cv" d="M61.7 118.7H75.9"/>
<text class="lg" transform="translate(85.0,121.5) scale(1.75,1)" font-size="7.8" x="0.28 4.92 9.76 14.60 19.44 24.28 29.12 33.96 38.80 43.64 48.48"><tspan class="dg">0</tspan>% humidity</text>
<path class="dt" style="stroke-dasharray:0.1 7.9" d="M62.5 133.9h8.4"/>
<text class="lg" transform="translate(85.6,136.7) scale(1.75,1)" font-size="7.8" x="0.28 5.12 9.76"><tspan class="dg">10</tspan>%</text>
<path class="ds" style="stroke-dasharray:4.5 3" d="M62.0 149.1H74.2"/>
<text class="lg" transform="translate(85.7,151.8) scale(1.75,1)" font-size="7.8" x="0.28 5.12 9.76"><tspan class="dg">20</tspan>%</text>
<path class="cv" d="M62.2 163.7H76.4"/>
<text class="lg" transform="translate(85.9,166.4) scale(1.75,1)" font-size="7.8" x="0.28 5.12 9.76"><tspan class="dg">30</tspan>%</text>
<path class="dt" style="stroke-dasharray:0.1 7.9" d="M63.0 178.9h8.4"/>
<text class="lg" transform="translate(86.1,181.7) scale(1.75,1)" font-size="7.8" x="0.28 5.12 9.76"><tspan class="dg">40</tspan>%</text>
<path class="ds" style="stroke-dasharray:4.5 3" d="M62.6 194.1H74.8"/>
<text class="lg" transform="translate(86.3,196.8) scale(1.75,1)" font-size="7.8" x="0.28 5.12 9.76"><tspan class="dg">50</tspan>%</text>
<path class="cv" d="M62.7 208.7H76.9"/>
<text class="lg" transform="translate(86.4,211.4) scale(1.75,1)" font-size="7.8" x="0.28 5.12 9.76"><tspan class="dg">60</tspan>%</text>
<path class="dt" style="stroke-dasharray:0.1 7.9" d="M63.5 223.3h8.4"/>
<text class="lg" transform="translate(86.6,226.1) scale(1.75,1)" font-size="7.8" x="0.28 5.12 9.76"><tspan class="dg">70</tspan>%</text>
<path class="ds" style="stroke-dasharray:4.5 3" d="M63.1 237.8H75.3"/>
<text class="lg" transform="translate(86.8,240.6) scale(1.75,1)" font-size="7.8" x="0.28 5.12 9.76"><tspan class="dg">80</tspan>%</text>
<path class="cv" d="M63.2 253.0H77.4"/>
<text class="lg" transform="translate(86.9,255.8) scale(1.75,1)" font-size="7.8" x="0.28 5.12 9.76"><tspan class="dg">90</tspan>%</text>
<path class="dt" style="stroke-dasharray:0.1 7.9" d="M64.0 267.8h8.4"/>
<text class="lg" transform="translate(87.1,270.6) scale(1.75,1)" font-size="7.8" x="0.28 5.12 9.96 14.60"><tspan class="dg">100</tspan>%</text>
</g></svg></body></html>
